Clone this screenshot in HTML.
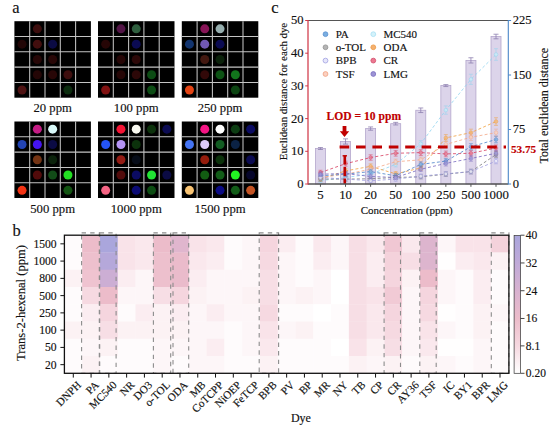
<!DOCTYPE html>
<html><head><meta charset="utf-8"><style>
html,body{margin:0;padding:0;background:#fff;width:550px;height:429px;overflow:hidden;}
svg{display:block;}
text{font-family:"Liberation Serif", serif;}
</style></head><body>
<svg width="550" height="429" viewBox="0 0 550 429">
<rect x="0" y="0" width="550" height="429" fill="#ffffff"/>
<text x="12.3" y="13" font-family='"Liberation Serif", serif' font-size="16.5" fill="#111" stroke="#111" stroke-width="0.15">a</text>
<rect x="14.4" y="21.2" width="76.5" height="76.5" fill="#000"/>
<circle cx="37.35" cy="28.85" r="4.5" fill="#3c0d0d"/>
<circle cx="22.05" cy="44.15" r="4.5" fill="#220606"/>
<circle cx="37.35" cy="44.15" r="4.5" fill="#420e0e"/>
<circle cx="52.65" cy="44.15" r="4.5" fill="#0b0b44"/>
<circle cx="37.35" cy="59.45" r="4.5" fill="#260606"/>
<circle cx="52.65" cy="59.45" r="4.5" fill="#280707"/>
<circle cx="37.35" cy="74.75" r="4.5" fill="#240606"/>
<circle cx="52.65" cy="74.75" r="4.5" fill="#280707"/>
<circle cx="67.95" cy="74.75" r="4.5" fill="#3e0e0e"/>
<circle cx="22.05" cy="90.05" r="4.5" fill="#4e1212"/>
<circle cx="67.95" cy="90.05" r="4.5" fill="#0b2c0e"/>
<line x1="29.70" y1="21.2" x2="29.70" y2="97.7" stroke="#c4c4c4" stroke-width="1.05"/>
<line x1="14.4" y1="36.50" x2="90.9" y2="36.50" stroke="#c4c4c4" stroke-width="1.05"/>
<line x1="45.00" y1="21.2" x2="45.00" y2="97.7" stroke="#c4c4c4" stroke-width="1.05"/>
<line x1="14.4" y1="51.80" x2="90.9" y2="51.80" stroke="#c4c4c4" stroke-width="1.05"/>
<line x1="60.30" y1="21.2" x2="60.30" y2="97.7" stroke="#c4c4c4" stroke-width="1.05"/>
<line x1="14.4" y1="67.10" x2="90.9" y2="67.10" stroke="#c4c4c4" stroke-width="1.05"/>
<line x1="75.60" y1="21.2" x2="75.60" y2="97.7" stroke="#c4c4c4" stroke-width="1.05"/>
<line x1="14.4" y1="82.40" x2="90.9" y2="82.40" stroke="#c4c4c4" stroke-width="1.05"/>
<text x="52.65" y="111.8" text-anchor="middle" font-family='"Liberation Serif", serif' font-size="12.7" fill="#111" stroke="#111" stroke-width="0.15">20 ppm</text>
<rect x="98.0" y="21.2" width="76.5" height="76.5" fill="#000"/>
<circle cx="120.95" cy="28.85" r="4.5" fill="#521446"/>
<circle cx="136.25" cy="28.85" r="4.5" fill="#2e5e3e"/>
<circle cx="105.65" cy="44.15" r="4.5" fill="#260606"/>
<circle cx="136.25" cy="44.15" r="4.5" fill="#0b0b52"/>
<circle cx="120.95" cy="59.45" r="4.5" fill="#260606"/>
<circle cx="136.25" cy="59.45" r="4.5" fill="#2c0808"/>
<circle cx="120.95" cy="74.75" r="4.5" fill="#260606"/>
<circle cx="136.25" cy="74.75" r="4.5" fill="#2c0808"/>
<circle cx="151.55" cy="74.75" r="4.5" fill="#0c4c14"/>
<circle cx="105.65" cy="90.05" r="4.5" fill="#801212"/>
<circle cx="151.55" cy="90.05" r="4.5" fill="#0c4c14"/>
<line x1="113.30" y1="21.2" x2="113.30" y2="97.7" stroke="#c4c4c4" stroke-width="1.05"/>
<line x1="98.0" y1="36.50" x2="174.5" y2="36.50" stroke="#c4c4c4" stroke-width="1.05"/>
<line x1="128.60" y1="21.2" x2="128.60" y2="97.7" stroke="#c4c4c4" stroke-width="1.05"/>
<line x1="98.0" y1="51.80" x2="174.5" y2="51.80" stroke="#c4c4c4" stroke-width="1.05"/>
<line x1="143.90" y1="21.2" x2="143.90" y2="97.7" stroke="#c4c4c4" stroke-width="1.05"/>
<line x1="98.0" y1="67.10" x2="174.5" y2="67.10" stroke="#c4c4c4" stroke-width="1.05"/>
<line x1="159.20" y1="21.2" x2="159.20" y2="97.7" stroke="#c4c4c4" stroke-width="1.05"/>
<line x1="98.0" y1="82.40" x2="174.5" y2="82.40" stroke="#c4c4c4" stroke-width="1.05"/>
<text x="136.25" y="111.8" text-anchor="middle" font-family='"Liberation Serif", serif' font-size="12.7" fill="#111" stroke="#111" stroke-width="0.15">100 ppm</text>
<rect x="181.8" y="21.2" width="76.5" height="76.5" fill="#000"/>
<circle cx="204.75" cy="28.85" r="4.5" fill="#861456"/>
<circle cx="220.05" cy="28.85" r="4.5" fill="#96aeae"/>
<circle cx="189.45" cy="44.15" r="4.5" fill="#12346e"/>
<circle cx="204.75" cy="44.15" r="4.5" fill="#7058b4"/>
<circle cx="220.05" cy="44.15" r="4.5" fill="#0b0b52"/>
<circle cx="204.75" cy="59.45" r="4.5" fill="#421810"/>
<circle cx="220.05" cy="59.45" r="4.5" fill="#0b220b"/>
<circle cx="204.75" cy="74.75" r="4.5" fill="#320909"/>
<circle cx="220.05" cy="74.75" r="4.5" fill="#0c5214"/>
<circle cx="235.35" cy="74.75" r="4.5" fill="#12741c"/>
<circle cx="189.45" cy="90.05" r="4.5" fill="#e44414"/>
<circle cx="235.35" cy="90.05" r="4.5" fill="#0c4412"/>
<line x1="197.10" y1="21.2" x2="197.10" y2="97.7" stroke="#c4c4c4" stroke-width="1.05"/>
<line x1="181.8" y1="36.50" x2="258.3" y2="36.50" stroke="#c4c4c4" stroke-width="1.05"/>
<line x1="212.40" y1="21.2" x2="212.40" y2="97.7" stroke="#c4c4c4" stroke-width="1.05"/>
<line x1="181.8" y1="51.80" x2="258.3" y2="51.80" stroke="#c4c4c4" stroke-width="1.05"/>
<line x1="227.70" y1="21.2" x2="227.70" y2="97.7" stroke="#c4c4c4" stroke-width="1.05"/>
<line x1="181.8" y1="67.10" x2="258.3" y2="67.10" stroke="#c4c4c4" stroke-width="1.05"/>
<line x1="243.00" y1="21.2" x2="243.00" y2="97.7" stroke="#c4c4c4" stroke-width="1.05"/>
<line x1="181.8" y1="82.40" x2="258.3" y2="82.40" stroke="#c4c4c4" stroke-width="1.05"/>
<text x="220.05" y="111.8" text-anchor="middle" font-family='"Liberation Serif", serif' font-size="12.7" fill="#111" stroke="#111" stroke-width="0.15">250 ppm</text>
<rect x="14.4" y="121.5" width="76.5" height="76.5" fill="#000"/>
<circle cx="37.35" cy="129.15" r="4.5" fill="#c41c84"/>
<circle cx="52.65" cy="129.15" r="4.5" fill="#d8f8f8"/>
<circle cx="22.05" cy="144.45" r="4.5" fill="#2244b4"/>
<circle cx="37.35" cy="144.45" r="4.5" fill="#4414f0"/>
<circle cx="52.65" cy="144.45" r="4.5" fill="#0b0b44"/>
<circle cx="37.35" cy="159.75" r="4.5" fill="#743414"/>
<circle cx="52.65" cy="159.75" r="4.5" fill="#0b220b"/>
<circle cx="37.35" cy="175.05" r="4.5" fill="#520b0b"/>
<circle cx="52.65" cy="175.05" r="4.5" fill="#124c18"/>
<circle cx="67.95" cy="175.05" r="4.5" fill="#22e022"/>
<circle cx="22.05" cy="190.35" r="4.5" fill="#f43414"/>
<circle cx="67.95" cy="190.35" r="4.5" fill="#125412"/>
<line x1="29.70" y1="121.5" x2="29.70" y2="198.0" stroke="#c4c4c4" stroke-width="1.05"/>
<line x1="14.4" y1="136.80" x2="90.9" y2="136.80" stroke="#c4c4c4" stroke-width="1.05"/>
<line x1="45.00" y1="121.5" x2="45.00" y2="198.0" stroke="#c4c4c4" stroke-width="1.05"/>
<line x1="14.4" y1="152.10" x2="90.9" y2="152.10" stroke="#c4c4c4" stroke-width="1.05"/>
<line x1="60.30" y1="121.5" x2="60.30" y2="198.0" stroke="#c4c4c4" stroke-width="1.05"/>
<line x1="14.4" y1="167.40" x2="90.9" y2="167.40" stroke="#c4c4c4" stroke-width="1.05"/>
<line x1="75.60" y1="121.5" x2="75.60" y2="198.0" stroke="#c4c4c4" stroke-width="1.05"/>
<line x1="14.4" y1="182.70" x2="90.9" y2="182.70" stroke="#c4c4c4" stroke-width="1.05"/>
<text x="52.65" y="212.6" text-anchor="middle" font-family='"Liberation Serif", serif' font-size="12.7" fill="#111" stroke="#111" stroke-width="0.15">500 ppm</text>
<rect x="98.0" y="121.5" width="76.5" height="76.5" fill="#000"/>
<circle cx="120.95" cy="129.15" r="4.5" fill="#f41434"/>
<circle cx="136.25" cy="129.15" r="4.5" fill="#f8f8f0"/>
<circle cx="151.55" cy="129.15" r="4.5" fill="#0c320c"/>
<circle cx="166.85" cy="129.15" r="4.5" fill="#0b0b52"/>
<circle cx="105.65" cy="144.45" r="4.5" fill="#2454f4"/>
<circle cx="120.95" cy="144.45" r="4.5" fill="#b494f4"/>
<circle cx="136.25" cy="144.45" r="4.5" fill="#0c320c"/>
<circle cx="120.95" cy="159.75" r="4.5" fill="#941c14"/>
<circle cx="136.25" cy="159.75" r="4.5" fill="#060c18"/>
<circle cx="120.95" cy="175.05" r="4.5" fill="#520b0b"/>
<circle cx="136.25" cy="175.05" r="4.5" fill="#0b0b62"/>
<circle cx="151.55" cy="175.05" r="4.5" fill="#22e434"/>
<circle cx="166.85" cy="175.05" r="4.5" fill="#0b0b44"/>
<circle cx="105.65" cy="190.35" r="4.5" fill="#f46484"/>
<circle cx="136.25" cy="190.35" r="4.5" fill="#0b0b74"/>
<circle cx="151.55" cy="190.35" r="4.5" fill="#0c4c12"/>
<line x1="113.30" y1="121.5" x2="113.30" y2="198.0" stroke="#c4c4c4" stroke-width="1.05"/>
<line x1="98.0" y1="136.80" x2="174.5" y2="136.80" stroke="#c4c4c4" stroke-width="1.05"/>
<line x1="128.60" y1="121.5" x2="128.60" y2="198.0" stroke="#c4c4c4" stroke-width="1.05"/>
<line x1="98.0" y1="152.10" x2="174.5" y2="152.10" stroke="#c4c4c4" stroke-width="1.05"/>
<line x1="143.90" y1="121.5" x2="143.90" y2="198.0" stroke="#c4c4c4" stroke-width="1.05"/>
<line x1="98.0" y1="167.40" x2="174.5" y2="167.40" stroke="#c4c4c4" stroke-width="1.05"/>
<line x1="159.20" y1="121.5" x2="159.20" y2="198.0" stroke="#c4c4c4" stroke-width="1.05"/>
<line x1="98.0" y1="182.70" x2="174.5" y2="182.70" stroke="#c4c4c4" stroke-width="1.05"/>
<text x="136.25" y="212.6" text-anchor="middle" font-family='"Liberation Serif", serif' font-size="12.7" fill="#111" stroke="#111" stroke-width="0.15">1000 ppm</text>
<rect x="181.8" y="121.5" width="76.5" height="76.5" fill="#000"/>
<circle cx="204.75" cy="129.15" r="4.5" fill="#f41484"/>
<circle cx="220.05" cy="129.15" r="4.5" fill="#ffffff"/>
<circle cx="235.35" cy="129.15" r="4.5" fill="#0c3c12"/>
<circle cx="250.65" cy="129.15" r="4.5" fill="#0b0b62"/>
<circle cx="189.45" cy="144.45" r="4.5" fill="#4474f4"/>
<circle cx="204.75" cy="144.45" r="4.5" fill="#dccaf8"/>
<circle cx="220.05" cy="144.45" r="4.5" fill="#125c22"/>
<circle cx="235.35" cy="144.45" r="4.5" fill="#0b2244"/>
<circle cx="204.75" cy="159.75" r="4.5" fill="#941c0c"/>
<circle cx="220.05" cy="159.75" r="4.5" fill="#0b320b"/>
<circle cx="250.65" cy="159.75" r="4.5" fill="#0b0b52"/>
<circle cx="204.75" cy="175.05" r="4.5" fill="#125c12"/>
<circle cx="220.05" cy="175.05" r="4.5" fill="#125c18"/>
<circle cx="235.35" cy="175.05" r="4.5" fill="#22f422"/>
<circle cx="250.65" cy="175.05" r="4.5" fill="#06062c"/>
<circle cx="189.45" cy="190.35" r="4.5" fill="#f8c474"/>
<circle cx="220.05" cy="190.35" r="4.5" fill="#0b0b84"/>
<circle cx="235.35" cy="190.35" r="4.5" fill="#125c18"/>
<circle cx="250.65" cy="190.35" r="4.5" fill="#c45424"/>
<line x1="197.10" y1="121.5" x2="197.10" y2="198.0" stroke="#c4c4c4" stroke-width="1.05"/>
<line x1="181.8" y1="136.80" x2="258.3" y2="136.80" stroke="#c4c4c4" stroke-width="1.05"/>
<line x1="212.40" y1="121.5" x2="212.40" y2="198.0" stroke="#c4c4c4" stroke-width="1.05"/>
<line x1="181.8" y1="152.10" x2="258.3" y2="152.10" stroke="#c4c4c4" stroke-width="1.05"/>
<line x1="227.70" y1="121.5" x2="227.70" y2="198.0" stroke="#c4c4c4" stroke-width="1.05"/>
<line x1="181.8" y1="167.40" x2="258.3" y2="167.40" stroke="#c4c4c4" stroke-width="1.05"/>
<line x1="243.00" y1="121.5" x2="243.00" y2="198.0" stroke="#c4c4c4" stroke-width="1.05"/>
<line x1="181.8" y1="182.70" x2="258.3" y2="182.70" stroke="#c4c4c4" stroke-width="1.05"/>
<text x="220.05" y="212.6" text-anchor="middle" font-family='"Liberation Serif", serif' font-size="12.7" fill="#111" stroke="#111" stroke-width="0.15">1500 ppm</text>
<text x="271.2" y="12.6" font-family='"Liberation Serif", serif' font-size="16.5" fill="#111" stroke="#111" stroke-width="0.15">c</text>
<rect x="315.45" y="148.52" width="10.0" height="35.48" fill="#dcd4ea" stroke="#b4a6cc" stroke-width="0.8"/>
<line x1="320.45" y1="147.54" x2="320.45" y2="149.50" stroke="#8e80b0" stroke-width="0.8"/>
<line x1="317.95" y1="147.54" x2="322.95" y2="147.54" stroke="#8e80b0" stroke-width="0.8"/>
<line x1="317.95" y1="149.50" x2="322.95" y2="149.50" stroke="#8e80b0" stroke-width="0.8"/>
<rect x="340.53" y="141.49" width="10.0" height="42.51" fill="#dcd4ea" stroke="#b4a6cc" stroke-width="0.8"/>
<line x1="345.53" y1="138.87" x2="345.53" y2="144.11" stroke="#8e80b0" stroke-width="0.8"/>
<line x1="343.03" y1="138.87" x2="348.03" y2="138.87" stroke="#8e80b0" stroke-width="0.8"/>
<line x1="343.03" y1="144.11" x2="348.03" y2="144.11" stroke="#8e80b0" stroke-width="0.8"/>
<rect x="365.61" y="128.57" width="10.0" height="55.43" fill="#dcd4ea" stroke="#b4a6cc" stroke-width="0.8"/>
<line x1="370.61" y1="126.94" x2="370.61" y2="130.21" stroke="#8e80b0" stroke-width="0.8"/>
<line x1="368.11" y1="126.94" x2="373.11" y2="126.94" stroke="#8e80b0" stroke-width="0.8"/>
<line x1="368.11" y1="130.21" x2="373.11" y2="130.21" stroke="#8e80b0" stroke-width="0.8"/>
<rect x="390.69" y="123.67" width="10.0" height="60.33" fill="#dcd4ea" stroke="#b4a6cc" stroke-width="0.8"/>
<line x1="395.69" y1="122.36" x2="395.69" y2="124.98" stroke="#8e80b0" stroke-width="0.8"/>
<line x1="393.19" y1="122.36" x2="398.19" y2="122.36" stroke="#8e80b0" stroke-width="0.8"/>
<line x1="393.19" y1="124.98" x2="398.19" y2="124.98" stroke="#8e80b0" stroke-width="0.8"/>
<rect x="415.77" y="110.26" width="10.0" height="73.74" fill="#dcd4ea" stroke="#b4a6cc" stroke-width="0.8"/>
<line x1="420.77" y1="107.97" x2="420.77" y2="112.55" stroke="#8e80b0" stroke-width="0.8"/>
<line x1="418.27" y1="107.97" x2="423.27" y2="107.97" stroke="#8e80b0" stroke-width="0.8"/>
<line x1="418.27" y1="112.55" x2="423.27" y2="112.55" stroke="#8e80b0" stroke-width="0.8"/>
<rect x="440.85" y="85.57" width="10.0" height="98.43" fill="#dcd4ea" stroke="#b4a6cc" stroke-width="0.8"/>
<line x1="445.85" y1="84.59" x2="445.85" y2="86.55" stroke="#8e80b0" stroke-width="0.8"/>
<line x1="443.35" y1="84.59" x2="448.35" y2="84.59" stroke="#8e80b0" stroke-width="0.8"/>
<line x1="443.35" y1="86.55" x2="448.35" y2="86.55" stroke="#8e80b0" stroke-width="0.8"/>
<rect x="465.93" y="60.39" width="10.0" height="123.61" fill="#dcd4ea" stroke="#b4a6cc" stroke-width="0.8"/>
<line x1="470.93" y1="57.78" x2="470.93" y2="63.01" stroke="#8e80b0" stroke-width="0.8"/>
<line x1="468.43" y1="57.78" x2="473.43" y2="57.78" stroke="#8e80b0" stroke-width="0.8"/>
<line x1="468.43" y1="63.01" x2="473.43" y2="63.01" stroke="#8e80b0" stroke-width="0.8"/>
<rect x="491.01" y="36.52" width="10.0" height="147.48" fill="#dcd4ea" stroke="#b4a6cc" stroke-width="0.8"/>
<line x1="496.01" y1="34.23" x2="496.01" y2="38.81" stroke="#8e80b0" stroke-width="0.8"/>
<line x1="493.51" y1="34.23" x2="498.51" y2="34.23" stroke="#8e80b0" stroke-width="0.8"/>
<line x1="493.51" y1="38.81" x2="498.51" y2="38.81" stroke="#8e80b0" stroke-width="0.8"/>
<polyline points="320.45,180.73 345.53,177.46 370.61,174.19 395.69,164.38 420.77,143.78 445.85,110.10 470.93,79.36 496.01,54.51" fill="none" stroke="#8fd4f0" stroke-width="0.9" stroke-dasharray="3 2.2" opacity="0.9"/>
<polyline points="320.45,179.09 345.53,170.92 370.61,166.34 395.69,173.86 420.77,167.98 445.85,137.89 470.93,132.66 496.01,121.54" fill="none" stroke="#f0a040" stroke-width="0.9" stroke-dasharray="3 2.2" opacity="0.9"/>
<polyline points="320.45,177.46 345.53,174.19 370.61,169.28 395.69,161.76 420.77,159.80 445.85,144.43 470.93,137.24 496.01,132.66" fill="none" stroke="#f4a888" stroke-width="0.9" stroke-dasharray="3 2.2" opacity="0.9"/>
<polyline points="320.45,172.56 345.53,163.73 370.61,157.51 395.69,153.26 420.77,152.61 445.85,153.92 470.93,153.26 496.01,148.03" fill="none" stroke="#d84060" stroke-width="0.9" stroke-dasharray="3 2.2" opacity="0.9"/>
<polyline points="320.45,175.82 345.53,174.19 370.61,171.57 395.69,175.82 420.77,164.38 445.85,161.11 470.93,146.72 496.01,139.53" fill="none" stroke="#4a82c8" stroke-width="0.9" stroke-dasharray="3 2.2" opacity="0.9"/>
<polyline points="320.45,179.09 345.53,179.09 370.61,178.77 395.69,177.46 420.77,176.81 445.85,174.19 470.93,171.57 496.01,154.57" fill="none" stroke="#7a7a7a" stroke-width="0.9" stroke-dasharray="3 2.2" opacity="0.9"/>
<polyline points="320.45,177.46 345.53,179.09 370.61,180.73 395.69,179.09 420.77,176.15 445.85,173.86 470.93,171.57 496.01,161.11" fill="none" stroke="#9c9ce0" stroke-width="0.9" stroke-dasharray="3 2.2" opacity="0.9"/>
<polyline points="320.45,174.19 345.53,173.54 370.61,176.48 395.69,177.46 420.77,169.28 445.85,163.40 470.93,158.49 496.01,153.26" fill="none" stroke="#7a6cc0" stroke-width="0.9" stroke-dasharray="3 2.2" opacity="0.9"/>
<g opacity="0.8"><line x1="320.45" y1="178.67" x2="320.45" y2="182.79" stroke="#8fd4f0" stroke-width="0.6"/>
<line x1="318.45" y1="178.67" x2="322.45" y2="178.67" stroke="#8fd4f0" stroke-width="0.6"/>
<line x1="318.45" y1="182.79" x2="322.45" y2="182.79" stroke="#8fd4f0" stroke-width="0.6"/>
<circle cx="320.45" cy="180.73" r="1.8" fill="#c9eef9" stroke="#8fd4f0" stroke-width="0.6"/></g>
<g opacity="0.8"><line x1="345.53" y1="175.30" x2="345.53" y2="179.62" stroke="#8fd4f0" stroke-width="0.6"/>
<line x1="343.53" y1="175.30" x2="347.53" y2="175.30" stroke="#8fd4f0" stroke-width="0.6"/>
<line x1="343.53" y1="179.62" x2="347.53" y2="179.62" stroke="#8fd4f0" stroke-width="0.6"/>
<circle cx="345.53" cy="177.46" r="1.8" fill="#c9eef9" stroke="#8fd4f0" stroke-width="0.6"/></g>
<g opacity="0.8"><line x1="370.61" y1="171.93" x2="370.61" y2="176.45" stroke="#8fd4f0" stroke-width="0.6"/>
<line x1="368.61" y1="171.93" x2="372.61" y2="171.93" stroke="#8fd4f0" stroke-width="0.6"/>
<line x1="368.61" y1="176.45" x2="372.61" y2="176.45" stroke="#8fd4f0" stroke-width="0.6"/>
<circle cx="370.61" cy="174.19" r="1.8" fill="#c9eef9" stroke="#8fd4f0" stroke-width="0.6"/></g>
<g opacity="0.8"><line x1="395.69" y1="161.83" x2="395.69" y2="166.93" stroke="#8fd4f0" stroke-width="0.6"/>
<line x1="393.69" y1="161.83" x2="397.69" y2="161.83" stroke="#8fd4f0" stroke-width="0.6"/>
<line x1="393.69" y1="166.93" x2="397.69" y2="166.93" stroke="#8fd4f0" stroke-width="0.6"/>
<circle cx="395.69" cy="164.38" r="1.8" fill="#c9eef9" stroke="#8fd4f0" stroke-width="0.6"/></g>
<g opacity="0.8"><line x1="420.77" y1="140.61" x2="420.77" y2="146.95" stroke="#8fd4f0" stroke-width="0.6"/>
<line x1="418.77" y1="140.61" x2="422.77" y2="140.61" stroke="#8fd4f0" stroke-width="0.6"/>
<line x1="418.77" y1="146.95" x2="422.77" y2="146.95" stroke="#8fd4f0" stroke-width="0.6"/>
<circle cx="420.77" cy="143.78" r="1.8" fill="#c9eef9" stroke="#8fd4f0" stroke-width="0.6"/></g>
<g opacity="0.8"><line x1="445.85" y1="105.92" x2="445.85" y2="114.28" stroke="#8fd4f0" stroke-width="0.6"/>
<line x1="443.85" y1="105.92" x2="447.85" y2="105.92" stroke="#8fd4f0" stroke-width="0.6"/>
<line x1="443.85" y1="114.28" x2="447.85" y2="114.28" stroke="#8fd4f0" stroke-width="0.6"/>
<circle cx="445.85" cy="110.10" r="1.8" fill="#c9eef9" stroke="#8fd4f0" stroke-width="0.6"/></g>
<g opacity="0.8"><line x1="470.93" y1="74.26" x2="470.93" y2="84.46" stroke="#8fd4f0" stroke-width="0.6"/>
<line x1="468.93" y1="74.26" x2="472.93" y2="74.26" stroke="#8fd4f0" stroke-width="0.6"/>
<line x1="468.93" y1="84.46" x2="472.93" y2="84.46" stroke="#8fd4f0" stroke-width="0.6"/>
<circle cx="470.93" cy="79.36" r="1.8" fill="#c9eef9" stroke="#8fd4f0" stroke-width="0.6"/></g>
<g opacity="0.8"><line x1="496.01" y1="48.66" x2="496.01" y2="60.35" stroke="#8fd4f0" stroke-width="0.6"/>
<line x1="494.01" y1="48.66" x2="498.01" y2="48.66" stroke="#8fd4f0" stroke-width="0.6"/>
<line x1="494.01" y1="60.35" x2="498.01" y2="60.35" stroke="#8fd4f0" stroke-width="0.6"/>
<circle cx="496.01" cy="54.51" r="1.8" fill="#c9eef9" stroke="#8fd4f0" stroke-width="0.6"/></g>
<g opacity="0.8"><line x1="320.45" y1="176.99" x2="320.45" y2="181.20" stroke="#f0a040" stroke-width="0.6"/>
<line x1="318.45" y1="176.99" x2="322.45" y2="176.99" stroke="#f0a040" stroke-width="0.6"/>
<line x1="318.45" y1="181.20" x2="322.45" y2="181.20" stroke="#f0a040" stroke-width="0.6"/>
<circle cx="320.45" cy="179.09" r="1.8" fill="#f5b870" stroke="#f0a040" stroke-width="0.6"/></g>
<g opacity="0.8"><line x1="345.53" y1="168.57" x2="345.53" y2="173.27" stroke="#f0a040" stroke-width="0.6"/>
<line x1="343.53" y1="168.57" x2="347.53" y2="168.57" stroke="#f0a040" stroke-width="0.6"/>
<line x1="343.53" y1="173.27" x2="347.53" y2="173.27" stroke="#f0a040" stroke-width="0.6"/>
<circle cx="345.53" cy="170.92" r="1.8" fill="#f5b870" stroke="#f0a040" stroke-width="0.6"/></g>
<g opacity="0.8"><line x1="370.61" y1="163.85" x2="370.61" y2="168.83" stroke="#f0a040" stroke-width="0.6"/>
<line x1="368.61" y1="163.85" x2="372.61" y2="163.85" stroke="#f0a040" stroke-width="0.6"/>
<line x1="368.61" y1="168.83" x2="372.61" y2="168.83" stroke="#f0a040" stroke-width="0.6"/>
<circle cx="370.61" cy="166.34" r="1.8" fill="#f5b870" stroke="#f0a040" stroke-width="0.6"/></g>
<g opacity="0.8"><line x1="395.69" y1="171.60" x2="395.69" y2="176.13" stroke="#f0a040" stroke-width="0.6"/>
<line x1="393.69" y1="171.60" x2="397.69" y2="171.60" stroke="#f0a040" stroke-width="0.6"/>
<line x1="393.69" y1="176.13" x2="397.69" y2="176.13" stroke="#f0a040" stroke-width="0.6"/>
<circle cx="395.69" cy="173.86" r="1.8" fill="#f5b870" stroke="#f0a040" stroke-width="0.6"/></g>
<g opacity="0.8"><line x1="420.77" y1="165.53" x2="420.77" y2="170.42" stroke="#f0a040" stroke-width="0.6"/>
<line x1="418.77" y1="165.53" x2="422.77" y2="165.53" stroke="#f0a040" stroke-width="0.6"/>
<line x1="418.77" y1="170.42" x2="422.77" y2="170.42" stroke="#f0a040" stroke-width="0.6"/>
<circle cx="420.77" cy="167.98" r="1.8" fill="#f5b870" stroke="#f0a040" stroke-width="0.6"/></g>
<g opacity="0.8"><line x1="445.85" y1="134.55" x2="445.85" y2="141.24" stroke="#f0a040" stroke-width="0.6"/>
<line x1="443.85" y1="134.55" x2="447.85" y2="134.55" stroke="#f0a040" stroke-width="0.6"/>
<line x1="443.85" y1="141.24" x2="447.85" y2="141.24" stroke="#f0a040" stroke-width="0.6"/>
<circle cx="445.85" cy="137.89" r="1.8" fill="#f5b870" stroke="#f0a040" stroke-width="0.6"/></g>
<g opacity="0.8"><line x1="470.93" y1="129.16" x2="470.93" y2="136.16" stroke="#f0a040" stroke-width="0.6"/>
<line x1="468.93" y1="129.16" x2="472.93" y2="129.16" stroke="#f0a040" stroke-width="0.6"/>
<line x1="468.93" y1="136.16" x2="472.93" y2="136.16" stroke="#f0a040" stroke-width="0.6"/>
<circle cx="470.93" cy="132.66" r="1.8" fill="#f5b870" stroke="#f0a040" stroke-width="0.6"/></g>
<g opacity="0.8"><line x1="496.01" y1="117.71" x2="496.01" y2="125.38" stroke="#f0a040" stroke-width="0.6"/>
<line x1="494.01" y1="117.71" x2="498.01" y2="117.71" stroke="#f0a040" stroke-width="0.6"/>
<line x1="494.01" y1="125.38" x2="498.01" y2="125.38" stroke="#f0a040" stroke-width="0.6"/>
<circle cx="496.01" cy="121.54" r="1.8" fill="#f5b870" stroke="#f0a040" stroke-width="0.6"/></g>
<g opacity="0.8"><line x1="320.45" y1="175.30" x2="320.45" y2="179.62" stroke="#f4a888" stroke-width="0.6"/>
<line x1="318.45" y1="175.30" x2="322.45" y2="175.30" stroke="#f4a888" stroke-width="0.6"/>
<line x1="318.45" y1="179.62" x2="322.45" y2="179.62" stroke="#f4a888" stroke-width="0.6"/>
<circle cx="320.45" cy="177.46" r="1.8" fill="#fbd4c2" stroke="#f4a888" stroke-width="0.6"/></g>
<g opacity="0.8"><line x1="345.53" y1="171.93" x2="345.53" y2="176.45" stroke="#f4a888" stroke-width="0.6"/>
<line x1="343.53" y1="171.93" x2="347.53" y2="171.93" stroke="#f4a888" stroke-width="0.6"/>
<line x1="343.53" y1="176.45" x2="347.53" y2="176.45" stroke="#f4a888" stroke-width="0.6"/>
<circle cx="345.53" cy="174.19" r="1.8" fill="#fbd4c2" stroke="#f4a888" stroke-width="0.6"/></g>
<g opacity="0.8"><line x1="370.61" y1="166.88" x2="370.61" y2="171.69" stroke="#f4a888" stroke-width="0.6"/>
<line x1="368.61" y1="166.88" x2="372.61" y2="166.88" stroke="#f4a888" stroke-width="0.6"/>
<line x1="368.61" y1="171.69" x2="372.61" y2="171.69" stroke="#f4a888" stroke-width="0.6"/>
<circle cx="370.61" cy="169.28" r="1.8" fill="#fbd4c2" stroke="#f4a888" stroke-width="0.6"/></g>
<g opacity="0.8"><line x1="395.69" y1="159.13" x2="395.69" y2="164.39" stroke="#f4a888" stroke-width="0.6"/>
<line x1="393.69" y1="159.13" x2="397.69" y2="159.13" stroke="#f4a888" stroke-width="0.6"/>
<line x1="393.69" y1="164.39" x2="397.69" y2="164.39" stroke="#f4a888" stroke-width="0.6"/>
<circle cx="395.69" cy="161.76" r="1.8" fill="#fbd4c2" stroke="#f4a888" stroke-width="0.6"/></g>
<g opacity="0.8"><line x1="420.77" y1="157.11" x2="420.77" y2="162.49" stroke="#f4a888" stroke-width="0.6"/>
<line x1="418.77" y1="157.11" x2="422.77" y2="157.11" stroke="#f4a888" stroke-width="0.6"/>
<line x1="418.77" y1="162.49" x2="422.77" y2="162.49" stroke="#f4a888" stroke-width="0.6"/>
<circle cx="420.77" cy="159.80" r="1.8" fill="#fbd4c2" stroke="#f4a888" stroke-width="0.6"/></g>
<g opacity="0.8"><line x1="445.85" y1="141.28" x2="445.85" y2="147.58" stroke="#f4a888" stroke-width="0.6"/>
<line x1="443.85" y1="141.28" x2="447.85" y2="141.28" stroke="#f4a888" stroke-width="0.6"/>
<line x1="443.85" y1="147.58" x2="447.85" y2="147.58" stroke="#f4a888" stroke-width="0.6"/>
<circle cx="445.85" cy="144.43" r="1.8" fill="#fbd4c2" stroke="#f4a888" stroke-width="0.6"/></g>
<g opacity="0.8"><line x1="470.93" y1="133.87" x2="470.93" y2="140.60" stroke="#f4a888" stroke-width="0.6"/>
<line x1="468.93" y1="133.87" x2="472.93" y2="133.87" stroke="#f4a888" stroke-width="0.6"/>
<line x1="468.93" y1="140.60" x2="472.93" y2="140.60" stroke="#f4a888" stroke-width="0.6"/>
<circle cx="470.93" cy="137.24" r="1.8" fill="#fbd4c2" stroke="#f4a888" stroke-width="0.6"/></g>
<g opacity="0.8"><line x1="496.01" y1="129.16" x2="496.01" y2="136.16" stroke="#f4a888" stroke-width="0.6"/>
<line x1="494.01" y1="129.16" x2="498.01" y2="129.16" stroke="#f4a888" stroke-width="0.6"/>
<line x1="494.01" y1="136.16" x2="498.01" y2="136.16" stroke="#f4a888" stroke-width="0.6"/>
<circle cx="496.01" cy="132.66" r="1.8" fill="#fbd4c2" stroke="#f4a888" stroke-width="0.6"/></g>
<g opacity="0.8"><line x1="320.45" y1="170.25" x2="320.45" y2="174.86" stroke="#d84060" stroke-width="0.6"/>
<line x1="318.45" y1="170.25" x2="322.45" y2="170.25" stroke="#d84060" stroke-width="0.6"/>
<line x1="318.45" y1="174.86" x2="322.45" y2="174.86" stroke="#d84060" stroke-width="0.6"/>
<circle cx="320.45" cy="172.56" r="1.8" fill="#e87890" stroke="#d84060" stroke-width="0.6"/></g>
<g opacity="0.8"><line x1="345.53" y1="161.16" x2="345.53" y2="166.30" stroke="#d84060" stroke-width="0.6"/>
<line x1="343.53" y1="161.16" x2="347.53" y2="161.16" stroke="#d84060" stroke-width="0.6"/>
<line x1="343.53" y1="166.30" x2="347.53" y2="166.30" stroke="#d84060" stroke-width="0.6"/>
<circle cx="345.53" cy="163.73" r="1.8" fill="#e87890" stroke="#d84060" stroke-width="0.6"/></g>
<g opacity="0.8"><line x1="370.61" y1="154.76" x2="370.61" y2="160.27" stroke="#d84060" stroke-width="0.6"/>
<line x1="368.61" y1="154.76" x2="372.61" y2="154.76" stroke="#d84060" stroke-width="0.6"/>
<line x1="368.61" y1="160.27" x2="372.61" y2="160.27" stroke="#d84060" stroke-width="0.6"/>
<circle cx="370.61" cy="157.51" r="1.8" fill="#e87890" stroke="#d84060" stroke-width="0.6"/></g>
<g opacity="0.8"><line x1="395.69" y1="150.38" x2="395.69" y2="156.15" stroke="#d84060" stroke-width="0.6"/>
<line x1="393.69" y1="150.38" x2="397.69" y2="150.38" stroke="#d84060" stroke-width="0.6"/>
<line x1="393.69" y1="156.15" x2="397.69" y2="156.15" stroke="#d84060" stroke-width="0.6"/>
<circle cx="395.69" cy="153.26" r="1.8" fill="#e87890" stroke="#d84060" stroke-width="0.6"/></g>
<g opacity="0.8"><line x1="420.77" y1="149.70" x2="420.77" y2="155.51" stroke="#d84060" stroke-width="0.6"/>
<line x1="418.77" y1="149.70" x2="422.77" y2="149.70" stroke="#d84060" stroke-width="0.6"/>
<line x1="418.77" y1="155.51" x2="422.77" y2="155.51" stroke="#d84060" stroke-width="0.6"/>
<circle cx="420.77" cy="152.61" r="1.8" fill="#e87890" stroke="#d84060" stroke-width="0.6"/></g>
<g opacity="0.8"><line x1="445.85" y1="151.05" x2="445.85" y2="156.78" stroke="#d84060" stroke-width="0.6"/>
<line x1="443.85" y1="151.05" x2="447.85" y2="151.05" stroke="#d84060" stroke-width="0.6"/>
<line x1="443.85" y1="156.78" x2="447.85" y2="156.78" stroke="#d84060" stroke-width="0.6"/>
<circle cx="445.85" cy="153.92" r="1.8" fill="#e87890" stroke="#d84060" stroke-width="0.6"/></g>
<g opacity="0.8"><line x1="470.93" y1="150.38" x2="470.93" y2="156.15" stroke="#d84060" stroke-width="0.6"/>
<line x1="468.93" y1="150.38" x2="472.93" y2="150.38" stroke="#d84060" stroke-width="0.6"/>
<line x1="468.93" y1="156.15" x2="472.93" y2="156.15" stroke="#d84060" stroke-width="0.6"/>
<circle cx="470.93" cy="153.26" r="1.8" fill="#e87890" stroke="#d84060" stroke-width="0.6"/></g>
<g opacity="0.8"><line x1="496.01" y1="144.99" x2="496.01" y2="151.07" stroke="#d84060" stroke-width="0.6"/>
<line x1="494.01" y1="144.99" x2="498.01" y2="144.99" stroke="#d84060" stroke-width="0.6"/>
<line x1="494.01" y1="151.07" x2="498.01" y2="151.07" stroke="#d84060" stroke-width="0.6"/>
<circle cx="496.01" cy="148.03" r="1.8" fill="#e87890" stroke="#d84060" stroke-width="0.6"/></g>
<g opacity="0.8"><line x1="320.45" y1="173.62" x2="320.45" y2="178.03" stroke="#4a82c8" stroke-width="0.6"/>
<line x1="318.45" y1="173.62" x2="322.45" y2="173.62" stroke="#4a82c8" stroke-width="0.6"/>
<line x1="318.45" y1="178.03" x2="322.45" y2="178.03" stroke="#4a82c8" stroke-width="0.6"/>
<circle cx="320.45" cy="175.82" r="1.8" fill="#7aaee0" stroke="#4a82c8" stroke-width="0.6"/></g>
<g opacity="0.8"><line x1="345.53" y1="171.93" x2="345.53" y2="176.45" stroke="#4a82c8" stroke-width="0.6"/>
<line x1="343.53" y1="171.93" x2="347.53" y2="171.93" stroke="#4a82c8" stroke-width="0.6"/>
<line x1="343.53" y1="176.45" x2="347.53" y2="176.45" stroke="#4a82c8" stroke-width="0.6"/>
<circle cx="345.53" cy="174.19" r="1.8" fill="#7aaee0" stroke="#4a82c8" stroke-width="0.6"/></g>
<g opacity="0.8"><line x1="370.61" y1="169.24" x2="370.61" y2="173.91" stroke="#4a82c8" stroke-width="0.6"/>
<line x1="368.61" y1="169.24" x2="372.61" y2="169.24" stroke="#4a82c8" stroke-width="0.6"/>
<line x1="368.61" y1="173.91" x2="372.61" y2="173.91" stroke="#4a82c8" stroke-width="0.6"/>
<circle cx="370.61" cy="171.57" r="1.8" fill="#7aaee0" stroke="#4a82c8" stroke-width="0.6"/></g>
<g opacity="0.8"><line x1="395.69" y1="173.62" x2="395.69" y2="178.03" stroke="#4a82c8" stroke-width="0.6"/>
<line x1="393.69" y1="173.62" x2="397.69" y2="173.62" stroke="#4a82c8" stroke-width="0.6"/>
<line x1="393.69" y1="178.03" x2="397.69" y2="178.03" stroke="#4a82c8" stroke-width="0.6"/>
<circle cx="395.69" cy="175.82" r="1.8" fill="#7aaee0" stroke="#4a82c8" stroke-width="0.6"/></g>
<g opacity="0.8"><line x1="420.77" y1="161.83" x2="420.77" y2="166.93" stroke="#4a82c8" stroke-width="0.6"/>
<line x1="418.77" y1="161.83" x2="422.77" y2="161.83" stroke="#4a82c8" stroke-width="0.6"/>
<line x1="418.77" y1="166.93" x2="422.77" y2="166.93" stroke="#4a82c8" stroke-width="0.6"/>
<circle cx="420.77" cy="164.38" r="1.8" fill="#7aaee0" stroke="#4a82c8" stroke-width="0.6"/></g>
<g opacity="0.8"><line x1="445.85" y1="158.46" x2="445.85" y2="163.76" stroke="#4a82c8" stroke-width="0.6"/>
<line x1="443.85" y1="158.46" x2="447.85" y2="158.46" stroke="#4a82c8" stroke-width="0.6"/>
<line x1="443.85" y1="163.76" x2="447.85" y2="163.76" stroke="#4a82c8" stroke-width="0.6"/>
<circle cx="445.85" cy="161.11" r="1.8" fill="#7aaee0" stroke="#4a82c8" stroke-width="0.6"/></g>
<g opacity="0.8"><line x1="470.93" y1="143.64" x2="470.93" y2="149.80" stroke="#4a82c8" stroke-width="0.6"/>
<line x1="468.93" y1="143.64" x2="472.93" y2="143.64" stroke="#4a82c8" stroke-width="0.6"/>
<line x1="468.93" y1="149.80" x2="472.93" y2="149.80" stroke="#4a82c8" stroke-width="0.6"/>
<circle cx="470.93" cy="146.72" r="1.8" fill="#7aaee0" stroke="#4a82c8" stroke-width="0.6"/></g>
<g opacity="0.8"><line x1="496.01" y1="136.23" x2="496.01" y2="142.82" stroke="#4a82c8" stroke-width="0.6"/>
<line x1="494.01" y1="136.23" x2="498.01" y2="136.23" stroke="#4a82c8" stroke-width="0.6"/>
<line x1="494.01" y1="142.82" x2="498.01" y2="142.82" stroke="#4a82c8" stroke-width="0.6"/>
<circle cx="496.01" cy="139.53" r="1.8" fill="#7aaee0" stroke="#4a82c8" stroke-width="0.6"/></g>
<g opacity="0.8"><line x1="320.45" y1="176.99" x2="320.45" y2="181.20" stroke="#7a7a7a" stroke-width="0.6"/>
<line x1="318.45" y1="176.99" x2="322.45" y2="176.99" stroke="#7a7a7a" stroke-width="0.6"/>
<line x1="318.45" y1="181.20" x2="322.45" y2="181.20" stroke="#7a7a7a" stroke-width="0.6"/>
<circle cx="320.45" cy="179.09" r="1.8" fill="#b0b0b0" stroke="#7a7a7a" stroke-width="0.6"/></g>
<g opacity="0.8"><line x1="345.53" y1="176.99" x2="345.53" y2="181.20" stroke="#7a7a7a" stroke-width="0.6"/>
<line x1="343.53" y1="176.99" x2="347.53" y2="176.99" stroke="#7a7a7a" stroke-width="0.6"/>
<line x1="343.53" y1="181.20" x2="347.53" y2="181.20" stroke="#7a7a7a" stroke-width="0.6"/>
<circle cx="345.53" cy="179.09" r="1.8" fill="#b0b0b0" stroke="#7a7a7a" stroke-width="0.6"/></g>
<g opacity="0.8"><line x1="370.61" y1="176.65" x2="370.61" y2="180.89" stroke="#7a7a7a" stroke-width="0.6"/>
<line x1="368.61" y1="176.65" x2="372.61" y2="176.65" stroke="#7a7a7a" stroke-width="0.6"/>
<line x1="368.61" y1="180.89" x2="372.61" y2="180.89" stroke="#7a7a7a" stroke-width="0.6"/>
<circle cx="370.61" cy="178.77" r="1.8" fill="#b0b0b0" stroke="#7a7a7a" stroke-width="0.6"/></g>
<g opacity="0.8"><line x1="395.69" y1="175.30" x2="395.69" y2="179.62" stroke="#7a7a7a" stroke-width="0.6"/>
<line x1="393.69" y1="175.30" x2="397.69" y2="175.30" stroke="#7a7a7a" stroke-width="0.6"/>
<line x1="393.69" y1="179.62" x2="397.69" y2="179.62" stroke="#7a7a7a" stroke-width="0.6"/>
<circle cx="395.69" cy="177.46" r="1.8" fill="#b0b0b0" stroke="#7a7a7a" stroke-width="0.6"/></g>
<g opacity="0.8"><line x1="420.77" y1="174.63" x2="420.77" y2="178.98" stroke="#7a7a7a" stroke-width="0.6"/>
<line x1="418.77" y1="174.63" x2="422.77" y2="174.63" stroke="#7a7a7a" stroke-width="0.6"/>
<line x1="418.77" y1="178.98" x2="422.77" y2="178.98" stroke="#7a7a7a" stroke-width="0.6"/>
<circle cx="420.77" cy="176.81" r="1.8" fill="#b0b0b0" stroke="#7a7a7a" stroke-width="0.6"/></g>
<g opacity="0.8"><line x1="445.85" y1="171.93" x2="445.85" y2="176.45" stroke="#7a7a7a" stroke-width="0.6"/>
<line x1="443.85" y1="171.93" x2="447.85" y2="171.93" stroke="#7a7a7a" stroke-width="0.6"/>
<line x1="443.85" y1="176.45" x2="447.85" y2="176.45" stroke="#7a7a7a" stroke-width="0.6"/>
<circle cx="445.85" cy="174.19" r="1.8" fill="#b0b0b0" stroke="#7a7a7a" stroke-width="0.6"/></g>
<g opacity="0.8"><line x1="470.93" y1="169.24" x2="470.93" y2="173.91" stroke="#7a7a7a" stroke-width="0.6"/>
<line x1="468.93" y1="169.24" x2="472.93" y2="169.24" stroke="#7a7a7a" stroke-width="0.6"/>
<line x1="468.93" y1="173.91" x2="472.93" y2="173.91" stroke="#7a7a7a" stroke-width="0.6"/>
<circle cx="470.93" cy="171.57" r="1.8" fill="#b0b0b0" stroke="#7a7a7a" stroke-width="0.6"/></g>
<g opacity="0.8"><line x1="496.01" y1="151.73" x2="496.01" y2="157.41" stroke="#7a7a7a" stroke-width="0.6"/>
<line x1="494.01" y1="151.73" x2="498.01" y2="151.73" stroke="#7a7a7a" stroke-width="0.6"/>
<line x1="494.01" y1="157.41" x2="498.01" y2="157.41" stroke="#7a7a7a" stroke-width="0.6"/>
<circle cx="496.01" cy="154.57" r="1.8" fill="#b0b0b0" stroke="#7a7a7a" stroke-width="0.6"/></g>
<g opacity="0.8"><line x1="320.45" y1="175.30" x2="320.45" y2="179.62" stroke="#9c9ce0" stroke-width="0.6"/>
<line x1="318.45" y1="175.30" x2="322.45" y2="175.30" stroke="#9c9ce0" stroke-width="0.6"/>
<line x1="318.45" y1="179.62" x2="322.45" y2="179.62" stroke="#9c9ce0" stroke-width="0.6"/>
<circle cx="320.45" cy="177.46" r="1.8" fill="#eeeefc" stroke="#9c9ce0" stroke-width="0.6"/></g>
<g opacity="0.8"><line x1="345.53" y1="176.99" x2="345.53" y2="181.20" stroke="#9c9ce0" stroke-width="0.6"/>
<line x1="343.53" y1="176.99" x2="347.53" y2="176.99" stroke="#9c9ce0" stroke-width="0.6"/>
<line x1="343.53" y1="181.20" x2="347.53" y2="181.20" stroke="#9c9ce0" stroke-width="0.6"/>
<circle cx="345.53" cy="179.09" r="1.8" fill="#eeeefc" stroke="#9c9ce0" stroke-width="0.6"/></g>
<g opacity="0.8"><line x1="370.61" y1="178.67" x2="370.61" y2="182.79" stroke="#9c9ce0" stroke-width="0.6"/>
<line x1="368.61" y1="178.67" x2="372.61" y2="178.67" stroke="#9c9ce0" stroke-width="0.6"/>
<line x1="368.61" y1="182.79" x2="372.61" y2="182.79" stroke="#9c9ce0" stroke-width="0.6"/>
<circle cx="370.61" cy="180.73" r="1.8" fill="#eeeefc" stroke="#9c9ce0" stroke-width="0.6"/></g>
<g opacity="0.8"><line x1="395.69" y1="176.99" x2="395.69" y2="181.20" stroke="#9c9ce0" stroke-width="0.6"/>
<line x1="393.69" y1="176.99" x2="397.69" y2="176.99" stroke="#9c9ce0" stroke-width="0.6"/>
<line x1="393.69" y1="181.20" x2="397.69" y2="181.20" stroke="#9c9ce0" stroke-width="0.6"/>
<circle cx="395.69" cy="179.09" r="1.8" fill="#eeeefc" stroke="#9c9ce0" stroke-width="0.6"/></g>
<g opacity="0.8"><line x1="420.77" y1="173.95" x2="420.77" y2="178.35" stroke="#9c9ce0" stroke-width="0.6"/>
<line x1="418.77" y1="173.95" x2="422.77" y2="173.95" stroke="#9c9ce0" stroke-width="0.6"/>
<line x1="418.77" y1="178.35" x2="422.77" y2="178.35" stroke="#9c9ce0" stroke-width="0.6"/>
<circle cx="420.77" cy="176.15" r="1.8" fill="#eeeefc" stroke="#9c9ce0" stroke-width="0.6"/></g>
<g opacity="0.8"><line x1="445.85" y1="171.60" x2="445.85" y2="176.13" stroke="#9c9ce0" stroke-width="0.6"/>
<line x1="443.85" y1="171.60" x2="447.85" y2="171.60" stroke="#9c9ce0" stroke-width="0.6"/>
<line x1="443.85" y1="176.13" x2="447.85" y2="176.13" stroke="#9c9ce0" stroke-width="0.6"/>
<circle cx="445.85" cy="173.86" r="1.8" fill="#eeeefc" stroke="#9c9ce0" stroke-width="0.6"/></g>
<g opacity="0.8"><line x1="470.93" y1="169.24" x2="470.93" y2="173.91" stroke="#9c9ce0" stroke-width="0.6"/>
<line x1="468.93" y1="169.24" x2="472.93" y2="169.24" stroke="#9c9ce0" stroke-width="0.6"/>
<line x1="468.93" y1="173.91" x2="472.93" y2="173.91" stroke="#9c9ce0" stroke-width="0.6"/>
<circle cx="470.93" cy="171.57" r="1.8" fill="#eeeefc" stroke="#9c9ce0" stroke-width="0.6"/></g>
<g opacity="0.8"><line x1="496.01" y1="158.46" x2="496.01" y2="163.76" stroke="#9c9ce0" stroke-width="0.6"/>
<line x1="494.01" y1="158.46" x2="498.01" y2="158.46" stroke="#9c9ce0" stroke-width="0.6"/>
<line x1="494.01" y1="163.76" x2="498.01" y2="163.76" stroke="#9c9ce0" stroke-width="0.6"/>
<circle cx="496.01" cy="161.11" r="1.8" fill="#eeeefc" stroke="#9c9ce0" stroke-width="0.6"/></g>
<g opacity="0.8"><line x1="320.45" y1="171.93" x2="320.45" y2="176.45" stroke="#7a6cc0" stroke-width="0.6"/>
<line x1="318.45" y1="171.93" x2="322.45" y2="171.93" stroke="#7a6cc0" stroke-width="0.6"/>
<line x1="318.45" y1="176.45" x2="322.45" y2="176.45" stroke="#7a6cc0" stroke-width="0.6"/>
<circle cx="320.45" cy="174.19" r="1.8" fill="#a098d8" stroke="#7a6cc0" stroke-width="0.6"/></g>
<g opacity="0.8"><line x1="345.53" y1="171.26" x2="345.53" y2="175.81" stroke="#7a6cc0" stroke-width="0.6"/>
<line x1="343.53" y1="171.26" x2="347.53" y2="171.26" stroke="#7a6cc0" stroke-width="0.6"/>
<line x1="343.53" y1="175.81" x2="347.53" y2="175.81" stroke="#7a6cc0" stroke-width="0.6"/>
<circle cx="345.53" cy="173.54" r="1.8" fill="#a098d8" stroke="#7a6cc0" stroke-width="0.6"/></g>
<g opacity="0.8"><line x1="370.61" y1="174.29" x2="370.61" y2="178.67" stroke="#7a6cc0" stroke-width="0.6"/>
<line x1="368.61" y1="174.29" x2="372.61" y2="174.29" stroke="#7a6cc0" stroke-width="0.6"/>
<line x1="368.61" y1="178.67" x2="372.61" y2="178.67" stroke="#7a6cc0" stroke-width="0.6"/>
<circle cx="370.61" cy="176.48" r="1.8" fill="#a098d8" stroke="#7a6cc0" stroke-width="0.6"/></g>
<g opacity="0.8"><line x1="395.69" y1="175.30" x2="395.69" y2="179.62" stroke="#7a6cc0" stroke-width="0.6"/>
<line x1="393.69" y1="175.30" x2="397.69" y2="175.30" stroke="#7a6cc0" stroke-width="0.6"/>
<line x1="393.69" y1="179.62" x2="397.69" y2="179.62" stroke="#7a6cc0" stroke-width="0.6"/>
<circle cx="395.69" cy="177.46" r="1.8" fill="#a098d8" stroke="#7a6cc0" stroke-width="0.6"/></g>
<g opacity="0.8"><line x1="420.77" y1="166.88" x2="420.77" y2="171.69" stroke="#7a6cc0" stroke-width="0.6"/>
<line x1="418.77" y1="166.88" x2="422.77" y2="166.88" stroke="#7a6cc0" stroke-width="0.6"/>
<line x1="418.77" y1="171.69" x2="422.77" y2="171.69" stroke="#7a6cc0" stroke-width="0.6"/>
<circle cx="420.77" cy="169.28" r="1.8" fill="#a098d8" stroke="#7a6cc0" stroke-width="0.6"/></g>
<g opacity="0.8"><line x1="445.85" y1="160.82" x2="445.85" y2="165.98" stroke="#7a6cc0" stroke-width="0.6"/>
<line x1="443.85" y1="160.82" x2="447.85" y2="160.82" stroke="#7a6cc0" stroke-width="0.6"/>
<line x1="443.85" y1="165.98" x2="447.85" y2="165.98" stroke="#7a6cc0" stroke-width="0.6"/>
<circle cx="445.85" cy="163.40" r="1.8" fill="#a098d8" stroke="#7a6cc0" stroke-width="0.6"/></g>
<g opacity="0.8"><line x1="470.93" y1="155.77" x2="470.93" y2="161.22" stroke="#7a6cc0" stroke-width="0.6"/>
<line x1="468.93" y1="155.77" x2="472.93" y2="155.77" stroke="#7a6cc0" stroke-width="0.6"/>
<line x1="468.93" y1="161.22" x2="472.93" y2="161.22" stroke="#7a6cc0" stroke-width="0.6"/>
<circle cx="470.93" cy="158.49" r="1.8" fill="#a098d8" stroke="#7a6cc0" stroke-width="0.6"/></g>
<g opacity="0.8"><line x1="496.01" y1="150.38" x2="496.01" y2="156.15" stroke="#7a6cc0" stroke-width="0.6"/>
<line x1="494.01" y1="150.38" x2="498.01" y2="150.38" stroke="#7a6cc0" stroke-width="0.6"/>
<line x1="494.01" y1="156.15" x2="498.01" y2="156.15" stroke="#7a6cc0" stroke-width="0.6"/>
<circle cx="496.01" cy="153.26" r="1.8" fill="#a098d8" stroke="#7a6cc0" stroke-width="0.6"/></g>
<line x1="344.8" y1="155.6" x2="344.8" y2="184" stroke="#c00000" stroke-width="2.6" stroke-dasharray="9 2.5"/>
<line x1="342.6" y1="155.8" x2="347" y2="155.8" stroke="#c00000" stroke-width="1.4"/>
<line x1="339.6" y1="147.0" x2="506" y2="147.0" stroke="#c00000" stroke-width="2.8" stroke-dasharray="9.6 6.8"/>
<path d="M342.6,126 L346.4,126 L346.4,131.2 L349.2,131.2 L344.5,137 L339.8,131.2 L342.6,131.2 Z" fill="#c00000"/>
<text x="326.5" y="119.8" font-family='"Liberation Serif", serif' font-size="11.6" font-weight="bold" fill="#c00000" stroke="#c00000" stroke-width="0.15">LOD = 10 ppm</text>
<text x="511" y="152.6" font-family='"Liberation Serif", serif' font-size="11.2" font-weight="bold" fill="#c00000" stroke="#c00000" stroke-width="0.15">53.75</text>
<line x1="308.0" y1="20.5" x2="508.3" y2="20.5" stroke="#555" stroke-width="1.1"/>
<line x1="308.0" y1="184.0" x2="508.3" y2="184.0" stroke="#555" stroke-width="1.3"/>
<line x1="308.0" y1="20.0" x2="308.0" y2="184.6" stroke="#d03848" stroke-width="1.25"/>
<line x1="508.3" y1="20.0" x2="508.3" y2="184.6" stroke="#4a86c8" stroke-width="1.1"/>
<line x1="305.2" y1="184.00" x2="308.0" y2="184.00" stroke="#d03848" stroke-width="1"/>
<text x="303.6" y="187.90" text-anchor="end" font-family='"Liberation Serif", serif' font-size="12.6" fill="#111" stroke="#111" stroke-width="0.15">0</text>
<line x1="305.2" y1="151.30" x2="308.0" y2="151.30" stroke="#d03848" stroke-width="1"/>
<text x="303.6" y="155.20" text-anchor="end" font-family='"Liberation Serif", serif' font-size="12.6" fill="#111" stroke="#111" stroke-width="0.15">10</text>
<line x1="305.2" y1="118.60" x2="308.0" y2="118.60" stroke="#d03848" stroke-width="1"/>
<text x="303.6" y="122.50" text-anchor="end" font-family='"Liberation Serif", serif' font-size="12.6" fill="#111" stroke="#111" stroke-width="0.15">20</text>
<line x1="305.2" y1="85.90" x2="308.0" y2="85.90" stroke="#d03848" stroke-width="1"/>
<text x="303.6" y="89.80" text-anchor="end" font-family='"Liberation Serif", serif' font-size="12.6" fill="#111" stroke="#111" stroke-width="0.15">30</text>
<line x1="305.2" y1="53.20" x2="308.0" y2="53.20" stroke="#d03848" stroke-width="1"/>
<text x="303.6" y="57.10" text-anchor="end" font-family='"Liberation Serif", serif' font-size="12.6" fill="#111" stroke="#111" stroke-width="0.15">40</text>
<line x1="305.2" y1="20.50" x2="308.0" y2="20.50" stroke="#d03848" stroke-width="1"/>
<text x="303.6" y="24.40" text-anchor="end" font-family='"Liberation Serif", serif' font-size="12.6" fill="#111" stroke="#111" stroke-width="0.15">50</text>
<line x1="508.3" y1="184.00" x2="511.1" y2="184.00" stroke="#4a86c8" stroke-width="1"/>
<text x="512.7" y="187.90" font-family='"Liberation Serif", serif' font-size="12.6" fill="#111" stroke="#111" stroke-width="0.15">0</text>
<line x1="508.3" y1="129.50" x2="511.1" y2="129.50" stroke="#4a86c8" stroke-width="1"/>
<text x="512.7" y="133.40" font-family='"Liberation Serif", serif' font-size="12.6" fill="#111" stroke="#111" stroke-width="0.15">75</text>
<line x1="508.3" y1="75.00" x2="511.1" y2="75.00" stroke="#4a86c8" stroke-width="1"/>
<text x="512.7" y="78.90" font-family='"Liberation Serif", serif' font-size="12.6" fill="#111" stroke="#111" stroke-width="0.15">150</text>
<line x1="508.3" y1="20.50" x2="511.1" y2="20.50" stroke="#4a86c8" stroke-width="1"/>
<text x="512.7" y="24.40" font-family='"Liberation Serif", serif' font-size="12.6" fill="#111" stroke="#111" stroke-width="0.15">225</text>
<line x1="320.45" y1="184.0" x2="320.45" y2="186.8" stroke="#555" stroke-width="1"/>
<text x="320.45" y="198.80" text-anchor="middle" font-family='"Liberation Serif", serif' font-size="12.8" fill="#111" stroke="#111" stroke-width="0.15">5</text>
<line x1="345.53" y1="184.0" x2="345.53" y2="186.8" stroke="#555" stroke-width="1"/>
<text x="345.53" y="198.80" text-anchor="middle" font-family='"Liberation Serif", serif' font-size="12.8" fill="#111" stroke="#111" stroke-width="0.15">10</text>
<line x1="370.61" y1="184.0" x2="370.61" y2="186.8" stroke="#555" stroke-width="1"/>
<text x="370.61" y="198.80" text-anchor="middle" font-family='"Liberation Serif", serif' font-size="12.8" fill="#111" stroke="#111" stroke-width="0.15">20</text>
<line x1="395.69" y1="184.0" x2="395.69" y2="186.8" stroke="#555" stroke-width="1"/>
<text x="395.69" y="198.80" text-anchor="middle" font-family='"Liberation Serif", serif' font-size="12.8" fill="#111" stroke="#111" stroke-width="0.15">50</text>
<line x1="420.77" y1="184.0" x2="420.77" y2="186.8" stroke="#555" stroke-width="1"/>
<text x="420.77" y="198.80" text-anchor="middle" font-family='"Liberation Serif", serif' font-size="12.8" fill="#111" stroke="#111" stroke-width="0.15">100</text>
<line x1="445.85" y1="184.0" x2="445.85" y2="186.8" stroke="#555" stroke-width="1"/>
<text x="445.85" y="198.80" text-anchor="middle" font-family='"Liberation Serif", serif' font-size="12.8" fill="#111" stroke="#111" stroke-width="0.15">250</text>
<line x1="470.93" y1="184.0" x2="470.93" y2="186.8" stroke="#555" stroke-width="1"/>
<text x="470.93" y="198.80" text-anchor="middle" font-family='"Liberation Serif", serif' font-size="12.8" fill="#111" stroke="#111" stroke-width="0.15">500</text>
<line x1="496.01" y1="184.0" x2="496.01" y2="186.8" stroke="#555" stroke-width="1"/>
<text x="496.01" y="198.80" text-anchor="middle" font-family='"Liberation Serif", serif' font-size="12.8" fill="#111" stroke="#111" stroke-width="0.15">1000</text>
<text x="406.7" y="214" text-anchor="middle" font-family='"Liberation Serif", serif' font-size="11" fill="#111" stroke="#111" stroke-width="0.15">Concentration (ppm)</text>
<text transform="translate(286.6,91.5) rotate(-90)" text-anchor="middle" font-family='"Liberation Serif", serif' font-size="10.8" fill="#111" stroke="#111" stroke-width="0.15">Euclidean distance for each dye</text>
<text transform="translate(548.2,105.7) rotate(-90)" text-anchor="middle" font-family='"Liberation Serif", serif' font-size="12" fill="#111" stroke="#111" stroke-width="0.15">Total euclidean distance</text>
<circle cx="325.5" cy="34.2" r="2.4" fill="#7aaee0" stroke="#5a90d0" stroke-width="0.8"/>
<text x="335.7" y="37.800000000000004" font-family='"Liberation Serif", serif' font-size="11" fill="#111" stroke="#111" stroke-width="0.15">PA</text>
<circle cx="325.5" cy="47.3" r="2.4" fill="#b4b4b4" stroke="#909090" stroke-width="0.8"/>
<text x="335.7" y="50.9" font-family='"Liberation Serif", serif' font-size="11" fill="#111" stroke="#111" stroke-width="0.15">o-TOL</text>
<circle cx="325.5" cy="60.6" r="2.4" fill="#e6e6fa" stroke="#a0a0e2" stroke-width="0.8"/>
<text x="335.7" y="64.2" font-family='"Liberation Serif", serif' font-size="11" fill="#111" stroke="#111" stroke-width="0.15">BPB</text>
<circle cx="325.5" cy="74.0" r="2.4" fill="#fbd0c0" stroke="#f0a080" stroke-width="0.8"/>
<text x="335.7" y="77.6" font-family='"Liberation Serif", serif' font-size="11" fill="#111" stroke="#111" stroke-width="0.15">TSF</text>
<circle cx="373.3" cy="34.2" r="2.4" fill="#d4f2fa" stroke="#a8e0f4" stroke-width="0.8"/>
<text x="383.5" y="37.800000000000004" font-family='"Liberation Serif", serif' font-size="11" fill="#111" stroke="#111" stroke-width="0.15">MC540</text>
<circle cx="373.3" cy="47.3" r="2.4" fill="#f4b070" stroke="#ec9840" stroke-width="0.8"/>
<text x="383.5" y="50.9" font-family='"Liberation Serif", serif' font-size="11" fill="#111" stroke="#111" stroke-width="0.15">ODA</text>
<circle cx="373.3" cy="60.6" r="2.4" fill="#ec7890" stroke="#d04868" stroke-width="0.8"/>
<text x="383.5" y="64.2" font-family='"Liberation Serif", serif' font-size="11" fill="#111" stroke="#111" stroke-width="0.15">CR</text>
<circle cx="373.3" cy="74.0" r="2.4" fill="#9c94d4" stroke="#7a6cc0" stroke-width="0.8"/>
<text x="383.5" y="77.6" font-family='"Liberation Serif", serif' font-size="11" fill="#111" stroke="#111" stroke-width="0.15">LMG</text>
<rect x="64.40" y="235.20" width="18.08" height="17.56" fill="#fefbfc"/>
<rect x="64.40" y="252.46" width="18.08" height="17.56" fill="#fefbfc"/>
<rect x="64.40" y="269.73" width="18.08" height="17.56" fill="#fcf2f4"/>
<rect x="64.40" y="286.99" width="18.08" height="17.56" fill="#fefbfc"/>
<rect x="64.40" y="304.25" width="18.08" height="17.56" fill="#fefbfc"/>
<rect x="64.40" y="321.51" width="18.08" height="17.56" fill="#fcf2f4"/>
<rect x="64.40" y="338.77" width="18.08" height="17.56" fill="#fefbfc"/>
<rect x="64.40" y="356.04" width="18.08" height="17.56" fill="#fefbfc"/>
<rect x="82.18" y="235.20" width="18.08" height="17.56" fill="#ecbcca"/>
<rect x="82.18" y="252.46" width="18.08" height="17.56" fill="#edc0cd"/>
<rect x="82.18" y="269.73" width="18.08" height="17.56" fill="#efc3d0"/>
<rect x="82.18" y="286.99" width="18.08" height="17.56" fill="#f6d9e1"/>
<rect x="82.18" y="304.25" width="18.08" height="17.56" fill="#fbedf1"/>
<rect x="82.18" y="321.51" width="18.08" height="17.56" fill="#fcf2f4"/>
<rect x="82.18" y="338.77" width="18.08" height="17.56" fill="#fdf6f8"/>
<rect x="82.18" y="356.04" width="18.08" height="17.56" fill="#fcf2f4"/>
<rect x="99.96" y="235.20" width="18.08" height="17.56" fill="#aaa6dc"/>
<rect x="99.96" y="252.46" width="18.08" height="17.56" fill="#b5a8da"/>
<rect x="99.96" y="269.73" width="18.08" height="17.56" fill="#ccaed4"/>
<rect x="99.96" y="286.99" width="18.08" height="17.56" fill="#ecbcca"/>
<rect x="99.96" y="304.25" width="18.08" height="17.56" fill="#f5d5de"/>
<rect x="99.96" y="321.51" width="18.08" height="17.56" fill="#f7dee5"/>
<rect x="99.96" y="338.77" width="18.08" height="17.56" fill="#fcf2f4"/>
<rect x="99.96" y="356.04" width="18.08" height="17.56" fill="#fefbfc"/>
<rect x="117.74" y="235.20" width="18.08" height="17.56" fill="#f9e3e9"/>
<rect x="117.74" y="252.46" width="18.08" height="17.56" fill="#f9e3e9"/>
<rect x="117.74" y="269.73" width="18.08" height="17.56" fill="#fbedf1"/>
<rect x="117.74" y="286.99" width="18.08" height="17.56" fill="#fdf6f8"/>
<rect x="117.74" y="304.25" width="18.08" height="17.56" fill="#fefbfc"/>
<rect x="117.74" y="321.51" width="18.08" height="17.56" fill="#fcf2f4"/>
<rect x="117.74" y="338.77" width="18.08" height="17.56" fill="#fefbfc"/>
<rect x="117.74" y="356.04" width="18.08" height="17.56" fill="#fefbfc"/>
<rect x="135.52" y="235.20" width="18.08" height="17.56" fill="#fae8ed"/>
<rect x="135.52" y="252.46" width="18.08" height="17.56" fill="#fae8ed"/>
<rect x="135.52" y="269.73" width="18.08" height="17.56" fill="#fdf6f8"/>
<rect x="135.52" y="286.99" width="18.08" height="17.56" fill="#fdf6f8"/>
<rect x="135.52" y="304.25" width="18.08" height="17.56" fill="#fbedf1"/>
<rect x="135.52" y="321.51" width="18.08" height="17.56" fill="#fcf2f4"/>
<rect x="135.52" y="338.77" width="18.08" height="17.56" fill="#fefbfc"/>
<rect x="135.52" y="356.04" width="18.08" height="17.56" fill="#fefbfc"/>
<rect x="153.30" y="235.20" width="18.08" height="17.56" fill="#ecbcca"/>
<rect x="153.30" y="252.46" width="18.08" height="17.56" fill="#edc0cd"/>
<rect x="153.30" y="269.73" width="18.08" height="17.56" fill="#edc0cd"/>
<rect x="153.30" y="286.99" width="18.08" height="17.56" fill="#f7dee5"/>
<rect x="153.30" y="304.25" width="18.08" height="17.56" fill="#fcf2f4"/>
<rect x="153.30" y="321.51" width="18.08" height="17.56" fill="#fcf2f4"/>
<rect x="153.30" y="338.77" width="18.08" height="17.56" fill="#fdf6f8"/>
<rect x="153.30" y="356.04" width="18.08" height="17.56" fill="#fdf6f8"/>
<rect x="171.08" y="235.20" width="18.08" height="17.56" fill="#e0b6ce"/>
<rect x="171.08" y="252.46" width="18.08" height="17.56" fill="#eabbcb"/>
<rect x="171.08" y="269.73" width="18.08" height="17.56" fill="#eabbcb"/>
<rect x="171.08" y="286.99" width="18.08" height="17.56" fill="#f5d5de"/>
<rect x="171.08" y="304.25" width="18.08" height="17.56" fill="#fbedf1"/>
<rect x="171.08" y="321.51" width="18.08" height="17.56" fill="#fcf2f4"/>
<rect x="171.08" y="338.77" width="18.08" height="17.56" fill="#fdf6f8"/>
<rect x="171.08" y="356.04" width="18.08" height="17.56" fill="#fefbfc"/>
<rect x="188.86" y="235.20" width="18.08" height="17.56" fill="#f9e3e9"/>
<rect x="188.86" y="252.46" width="18.08" height="17.56" fill="#fae8ed"/>
<rect x="188.86" y="269.73" width="18.08" height="17.56" fill="#fbedf1"/>
<rect x="188.86" y="286.99" width="18.08" height="17.56" fill="#fcf2f4"/>
<rect x="188.86" y="304.25" width="18.08" height="17.56" fill="#fdf6f8"/>
<rect x="188.86" y="321.51" width="18.08" height="17.56" fill="#fdf6f8"/>
<rect x="188.86" y="338.77" width="18.08" height="17.56" fill="#fdf6f8"/>
<rect x="188.86" y="356.04" width="18.08" height="17.56" fill="#fdf6f8"/>
<rect x="206.64" y="235.20" width="18.08" height="17.56" fill="#fae8ed"/>
<rect x="206.64" y="252.46" width="18.08" height="17.56" fill="#fbedf1"/>
<rect x="206.64" y="269.73" width="18.08" height="17.56" fill="#fdf6f8"/>
<rect x="206.64" y="286.99" width="18.08" height="17.56" fill="#fdf6f8"/>
<rect x="206.64" y="304.25" width="18.08" height="17.56" fill="#fbedf1"/>
<rect x="206.64" y="321.51" width="18.08" height="17.56" fill="#fdf6f8"/>
<rect x="206.64" y="338.77" width="18.08" height="17.56" fill="#fbedf1"/>
<rect x="206.64" y="356.04" width="18.08" height="17.56" fill="#fdf6f8"/>
<rect x="224.42" y="235.20" width="18.08" height="17.56" fill="#fefbfc"/>
<rect x="224.42" y="252.46" width="18.08" height="17.56" fill="#fefbfc"/>
<rect x="224.42" y="269.73" width="18.08" height="17.56" fill="#fdf6f8"/>
<rect x="224.42" y="286.99" width="18.08" height="17.56" fill="#fdf6f8"/>
<rect x="224.42" y="304.25" width="18.08" height="17.56" fill="#fdf6f8"/>
<rect x="224.42" y="321.51" width="18.08" height="17.56" fill="#fefbfc"/>
<rect x="224.42" y="338.77" width="18.08" height="17.56" fill="#fefbfc"/>
<rect x="224.42" y="356.04" width="18.08" height="17.56" fill="#fefbfc"/>
<rect x="242.20" y="235.20" width="18.08" height="17.56" fill="#fdf6f8"/>
<rect x="242.20" y="252.46" width="18.08" height="17.56" fill="#fdf6f8"/>
<rect x="242.20" y="269.73" width="18.08" height="17.56" fill="#fdf6f8"/>
<rect x="242.20" y="286.99" width="18.08" height="17.56" fill="#fcf2f4"/>
<rect x="242.20" y="304.25" width="18.08" height="17.56" fill="#fdf6f8"/>
<rect x="242.20" y="321.51" width="18.08" height="17.56" fill="#fdf6f8"/>
<rect x="242.20" y="338.77" width="18.08" height="17.56" fill="#fdf6f8"/>
<rect x="242.20" y="356.04" width="18.08" height="17.56" fill="#fefbfc"/>
<rect x="259.98" y="235.20" width="18.08" height="17.56" fill="#f5d5de"/>
<rect x="259.98" y="252.46" width="18.08" height="17.56" fill="#f6d9e1"/>
<rect x="259.98" y="269.73" width="18.08" height="17.56" fill="#f7dee5"/>
<rect x="259.98" y="286.99" width="18.08" height="17.56" fill="#f7dee5"/>
<rect x="259.98" y="304.25" width="18.08" height="17.56" fill="#f6d9e1"/>
<rect x="259.98" y="321.51" width="18.08" height="17.56" fill="#f9e3e9"/>
<rect x="259.98" y="338.77" width="18.08" height="17.56" fill="#fae8ed"/>
<rect x="259.98" y="356.04" width="18.08" height="17.56" fill="#fcf2f4"/>
<rect x="277.76" y="235.20" width="18.08" height="17.56" fill="#fbedf1"/>
<rect x="277.76" y="252.46" width="18.08" height="17.56" fill="#fdf6f8"/>
<rect x="277.76" y="269.73" width="18.08" height="17.56" fill="#fdf6f8"/>
<rect x="277.76" y="286.99" width="18.08" height="17.56" fill="#fdf6f8"/>
<rect x="277.76" y="304.25" width="18.08" height="17.56" fill="#fefbfc"/>
<rect x="277.76" y="321.51" width="18.08" height="17.56" fill="#fdf6f8"/>
<rect x="277.76" y="338.77" width="18.08" height="17.56" fill="#fefbfc"/>
<rect x="277.76" y="356.04" width="18.08" height="17.56" fill="#fefbfc"/>
<rect x="295.54" y="235.20" width="18.08" height="17.56" fill="#fefbfc"/>
<rect x="295.54" y="252.46" width="18.08" height="17.56" fill="#fefbfc"/>
<rect x="295.54" y="269.73" width="18.08" height="17.56" fill="#fefbfc"/>
<rect x="295.54" y="286.99" width="18.08" height="17.56" fill="#fcf2f4"/>
<rect x="295.54" y="304.25" width="18.08" height="17.56" fill="#fefbfc"/>
<rect x="295.54" y="321.51" width="18.08" height="17.56" fill="#fcf2f4"/>
<rect x="295.54" y="338.77" width="18.08" height="17.56" fill="#fefbfc"/>
<rect x="295.54" y="356.04" width="18.08" height="17.56" fill="#fefbfc"/>
<rect x="313.32" y="235.20" width="18.08" height="17.56" fill="#fae8ed"/>
<rect x="313.32" y="252.46" width="18.08" height="17.56" fill="#fbedf1"/>
<rect x="313.32" y="269.73" width="18.08" height="17.56" fill="#fdf6f8"/>
<rect x="313.32" y="286.99" width="18.08" height="17.56" fill="#fdf6f8"/>
<rect x="313.32" y="304.25" width="18.08" height="17.56" fill="#ffffff"/>
<rect x="313.32" y="321.51" width="18.08" height="17.56" fill="#fefbfc"/>
<rect x="313.32" y="338.77" width="18.08" height="17.56" fill="#fefbfc"/>
<rect x="313.32" y="356.04" width="18.08" height="17.56" fill="#fefbfc"/>
<rect x="331.10" y="235.20" width="18.08" height="17.56" fill="#fdf6f8"/>
<rect x="331.10" y="252.46" width="18.08" height="17.56" fill="#fdf6f8"/>
<rect x="331.10" y="269.73" width="18.08" height="17.56" fill="#ffffff"/>
<rect x="331.10" y="286.99" width="18.08" height="17.56" fill="#ffffff"/>
<rect x="331.10" y="304.25" width="18.08" height="17.56" fill="#fefbfc"/>
<rect x="331.10" y="321.51" width="18.08" height="17.56" fill="#fefbfc"/>
<rect x="331.10" y="338.77" width="18.08" height="17.56" fill="#ffffff"/>
<rect x="331.10" y="356.04" width="18.08" height="17.56" fill="#fefbfc"/>
<rect x="348.88" y="235.20" width="18.08" height="17.56" fill="#f7dee5"/>
<rect x="348.88" y="252.46" width="18.08" height="17.56" fill="#f7dee5"/>
<rect x="348.88" y="269.73" width="18.08" height="17.56" fill="#f7dee5"/>
<rect x="348.88" y="286.99" width="18.08" height="17.56" fill="#f7dee5"/>
<rect x="348.88" y="304.25" width="18.08" height="17.56" fill="#f7dee5"/>
<rect x="348.88" y="321.51" width="18.08" height="17.56" fill="#f7dee5"/>
<rect x="348.88" y="338.77" width="18.08" height="17.56" fill="#f9e3e9"/>
<rect x="348.88" y="356.04" width="18.08" height="17.56" fill="#fcf2f4"/>
<rect x="366.66" y="235.20" width="18.08" height="17.56" fill="#fae8ed"/>
<rect x="366.66" y="252.46" width="18.08" height="17.56" fill="#fbedf1"/>
<rect x="366.66" y="269.73" width="18.08" height="17.56" fill="#fbedf1"/>
<rect x="366.66" y="286.99" width="18.08" height="17.56" fill="#f9e3e9"/>
<rect x="366.66" y="304.25" width="18.08" height="17.56" fill="#fae8ed"/>
<rect x="366.66" y="321.51" width="18.08" height="17.56" fill="#fae8ed"/>
<rect x="366.66" y="338.77" width="18.08" height="17.56" fill="#fcf2f4"/>
<rect x="366.66" y="356.04" width="18.08" height="17.56" fill="#fdf6f8"/>
<rect x="384.44" y="235.20" width="18.08" height="17.56" fill="#f0c7d3"/>
<rect x="384.44" y="252.46" width="18.08" height="17.56" fill="#f4d2db"/>
<rect x="384.44" y="269.73" width="18.08" height="17.56" fill="#f5d5de"/>
<rect x="384.44" y="286.99" width="18.08" height="17.56" fill="#f1cad5"/>
<rect x="384.44" y="304.25" width="18.08" height="17.56" fill="#f5d5de"/>
<rect x="384.44" y="321.51" width="18.08" height="17.56" fill="#f6d9e1"/>
<rect x="384.44" y="338.77" width="18.08" height="17.56" fill="#f7dee5"/>
<rect x="384.44" y="356.04" width="18.08" height="17.56" fill="#fcf2f4"/>
<rect x="402.22" y="235.20" width="18.08" height="17.56" fill="#fae8ed"/>
<rect x="402.22" y="252.46" width="18.08" height="17.56" fill="#f7dee5"/>
<rect x="402.22" y="269.73" width="18.08" height="17.56" fill="#fcf2f4"/>
<rect x="402.22" y="286.99" width="18.08" height="17.56" fill="#fdf6f8"/>
<rect x="402.22" y="304.25" width="18.08" height="17.56" fill="#fdf6f8"/>
<rect x="402.22" y="321.51" width="18.08" height="17.56" fill="#fdf6f8"/>
<rect x="402.22" y="338.77" width="18.08" height="17.56" fill="#fdf6f8"/>
<rect x="402.22" y="356.04" width="18.08" height="17.56" fill="#fefbfc"/>
<rect x="420.00" y="235.20" width="18.08" height="17.56" fill="#ddb5ce"/>
<rect x="420.00" y="252.46" width="18.08" height="17.56" fill="#ddb5ce"/>
<rect x="420.00" y="269.73" width="18.08" height="17.56" fill="#ecbcca"/>
<rect x="420.00" y="286.99" width="18.08" height="17.56" fill="#f5d5de"/>
<rect x="420.00" y="304.25" width="18.08" height="17.56" fill="#f6d9e1"/>
<rect x="420.00" y="321.51" width="18.08" height="17.56" fill="#f9e3e9"/>
<rect x="420.00" y="338.77" width="18.08" height="17.56" fill="#fae8ed"/>
<rect x="420.00" y="356.04" width="18.08" height="17.56" fill="#fcf2f4"/>
<rect x="437.78" y="235.20" width="18.08" height="17.56" fill="#fdf6f8"/>
<rect x="437.78" y="252.46" width="18.08" height="17.56" fill="#fffefe"/>
<rect x="437.78" y="269.73" width="18.08" height="17.56" fill="#fdf6f8"/>
<rect x="437.78" y="286.99" width="18.08" height="17.56" fill="#fdf6f8"/>
<rect x="437.78" y="304.25" width="18.08" height="17.56" fill="#fffefe"/>
<rect x="437.78" y="321.51" width="18.08" height="17.56" fill="#fdf6f8"/>
<rect x="437.78" y="338.77" width="18.08" height="17.56" fill="#fffefe"/>
<rect x="437.78" y="356.04" width="18.08" height="17.56" fill="#fdf6f8"/>
<rect x="455.56" y="235.20" width="18.08" height="17.56" fill="#f9e3e9"/>
<rect x="455.56" y="252.46" width="18.08" height="17.56" fill="#fbedf1"/>
<rect x="455.56" y="269.73" width="18.08" height="17.56" fill="#fefbfc"/>
<rect x="455.56" y="286.99" width="18.08" height="17.56" fill="#fefbfc"/>
<rect x="455.56" y="304.25" width="18.08" height="17.56" fill="#fefbfc"/>
<rect x="455.56" y="321.51" width="18.08" height="17.56" fill="#fefbfc"/>
<rect x="455.56" y="338.77" width="18.08" height="17.56" fill="#fffefe"/>
<rect x="455.56" y="356.04" width="18.08" height="17.56" fill="#fefbfc"/>
<rect x="473.34" y="235.20" width="18.08" height="17.56" fill="#f9e3e9"/>
<rect x="473.34" y="252.46" width="18.08" height="17.56" fill="#fae8ed"/>
<rect x="473.34" y="269.73" width="18.08" height="17.56" fill="#fbedf1"/>
<rect x="473.34" y="286.99" width="18.08" height="17.56" fill="#fbedf1"/>
<rect x="473.34" y="304.25" width="18.08" height="17.56" fill="#fcf2f4"/>
<rect x="473.34" y="321.51" width="18.08" height="17.56" fill="#fcf2f4"/>
<rect x="473.34" y="338.77" width="18.08" height="17.56" fill="#fdf6f8"/>
<rect x="473.34" y="356.04" width="18.08" height="17.56" fill="#fdf6f8"/>
<rect x="491.12" y="235.20" width="18.08" height="17.56" fill="#f4d2db"/>
<rect x="491.12" y="252.46" width="18.08" height="17.56" fill="#fcf2f4"/>
<rect x="491.12" y="269.73" width="18.08" height="17.56" fill="#fefbfc"/>
<rect x="491.12" y="286.99" width="18.08" height="17.56" fill="#fefbfc"/>
<rect x="491.12" y="304.25" width="18.08" height="17.56" fill="#fdf6f8"/>
<rect x="491.12" y="321.51" width="18.08" height="17.56" fill="#fefbfc"/>
<rect x="491.12" y="338.77" width="18.08" height="17.56" fill="#fefbfc"/>
<rect x="491.12" y="356.04" width="18.08" height="17.56" fill="#fefbfc"/>
<rect x="81.60" y="232.90" width="17.70" height="140.40" fill="none" stroke="#8c8c8c" stroke-width="1.1" stroke-dasharray="4.4 4.2"/>
<rect x="99.70" y="232.90" width="16.40" height="140.40" fill="none" stroke="#8c8c8c" stroke-width="1.1" stroke-dasharray="4.4 4.2"/>
<rect x="153.40" y="232.90" width="17.30" height="140.40" fill="none" stroke="#8c8c8c" stroke-width="1.1" stroke-dasharray="4.4 4.2"/>
<rect x="173.00" y="232.90" width="15.70" height="140.40" fill="none" stroke="#8c8c8c" stroke-width="1.1" stroke-dasharray="4.4 4.2"/>
<rect x="259.20" y="232.90" width="19.40" height="140.40" fill="none" stroke="#8c8c8c" stroke-width="1.1" stroke-dasharray="4.4 4.2"/>
<rect x="384.10" y="232.90" width="16.40" height="140.40" fill="none" stroke="#8c8c8c" stroke-width="1.1" stroke-dasharray="4.4 4.2"/>
<rect x="419.80" y="232.90" width="16.40" height="140.40" fill="none" stroke="#8c8c8c" stroke-width="1.1" stroke-dasharray="4.4 4.2"/>
<rect x="491.30" y="232.90" width="17.60" height="140.40" fill="none" stroke="#8c8c8c" stroke-width="1.1" stroke-dasharray="4.4 4.2"/>
<rect x="64.4" y="235.2" width="444.5" height="138.10000000000002" fill="none" stroke="#111" stroke-width="1.3"/>
<line x1="60.400000000000006" y1="243.83" x2="64.4" y2="243.83" stroke="#111" stroke-width="1"/>
<text x="56.60000000000001" y="247.83" text-anchor="end" font-family='"Liberation Serif", serif' font-size="11.6" fill="#111" stroke="#111" stroke-width="0.15">1500</text>
<line x1="60.400000000000006" y1="261.09" x2="64.4" y2="261.09" stroke="#111" stroke-width="1"/>
<text x="56.60000000000001" y="265.09" text-anchor="end" font-family='"Liberation Serif", serif' font-size="11.6" fill="#111" stroke="#111" stroke-width="0.15">1000</text>
<line x1="60.400000000000006" y1="278.36" x2="64.4" y2="278.36" stroke="#111" stroke-width="1"/>
<text x="56.60000000000001" y="282.36" text-anchor="end" font-family='"Liberation Serif", serif' font-size="11.6" fill="#111" stroke="#111" stroke-width="0.15">800</text>
<line x1="60.400000000000006" y1="295.62" x2="64.4" y2="295.62" stroke="#111" stroke-width="1"/>
<text x="56.60000000000001" y="299.62" text-anchor="end" font-family='"Liberation Serif", serif' font-size="11.6" fill="#111" stroke="#111" stroke-width="0.15">500</text>
<line x1="60.400000000000006" y1="312.88" x2="64.4" y2="312.88" stroke="#111" stroke-width="1"/>
<text x="56.60000000000001" y="316.88" text-anchor="end" font-family='"Liberation Serif", serif' font-size="11.6" fill="#111" stroke="#111" stroke-width="0.15">250</text>
<line x1="60.400000000000006" y1="330.14" x2="64.4" y2="330.14" stroke="#111" stroke-width="1"/>
<text x="56.60000000000001" y="334.14" text-anchor="end" font-family='"Liberation Serif", serif' font-size="11.6" fill="#111" stroke="#111" stroke-width="0.15">100</text>
<line x1="60.400000000000006" y1="347.41" x2="64.4" y2="347.41" stroke="#111" stroke-width="1"/>
<text x="56.60000000000001" y="351.41" text-anchor="end" font-family='"Liberation Serif", serif' font-size="11.6" fill="#111" stroke="#111" stroke-width="0.15">50</text>
<line x1="60.400000000000006" y1="364.67" x2="64.4" y2="364.67" stroke="#111" stroke-width="1"/>
<text x="56.60000000000001" y="368.67" text-anchor="end" font-family='"Liberation Serif", serif' font-size="11.6" fill="#111" stroke="#111" stroke-width="0.15">20</text>
<line x1="73.29" y1="373.3" x2="73.29" y2="377.6" stroke="#111" stroke-width="1"/>
<text transform="translate(81.79,385.60) rotate(-45)" text-anchor="end" font-family='"Liberation Serif", serif' font-size="11" fill="#111" stroke="#111" stroke-width="0.15">DNPH</text>
<line x1="91.07" y1="373.3" x2="91.07" y2="377.6" stroke="#111" stroke-width="1"/>
<text transform="translate(99.57,385.60) rotate(-45)" text-anchor="end" font-family='"Liberation Serif", serif' font-size="11" fill="#111" stroke="#111" stroke-width="0.15">PA</text>
<line x1="108.85" y1="373.3" x2="108.85" y2="377.6" stroke="#111" stroke-width="1"/>
<text transform="translate(117.35,385.60) rotate(-45)" text-anchor="end" font-family='"Liberation Serif", serif' font-size="11" fill="#111" stroke="#111" stroke-width="0.15">MC540</text>
<line x1="126.63" y1="373.3" x2="126.63" y2="377.6" stroke="#111" stroke-width="1"/>
<text transform="translate(135.13,385.60) rotate(-45)" text-anchor="end" font-family='"Liberation Serif", serif' font-size="11" fill="#111" stroke="#111" stroke-width="0.15">NR</text>
<line x1="144.41" y1="373.3" x2="144.41" y2="377.6" stroke="#111" stroke-width="1"/>
<text transform="translate(152.91,385.60) rotate(-45)" text-anchor="end" font-family='"Liberation Serif", serif' font-size="11" fill="#111" stroke="#111" stroke-width="0.15">DO3</text>
<line x1="162.19" y1="373.3" x2="162.19" y2="377.6" stroke="#111" stroke-width="1"/>
<text transform="translate(170.69,385.60) rotate(-45)" text-anchor="end" font-family='"Liberation Serif", serif' font-size="11" fill="#111" stroke="#111" stroke-width="0.15">o-TOL</text>
<line x1="179.97" y1="373.3" x2="179.97" y2="377.6" stroke="#111" stroke-width="1"/>
<text transform="translate(188.47,385.60) rotate(-45)" text-anchor="end" font-family='"Liberation Serif", serif' font-size="11" fill="#111" stroke="#111" stroke-width="0.15">ODA</text>
<line x1="197.75" y1="373.3" x2="197.75" y2="377.6" stroke="#111" stroke-width="1"/>
<text transform="translate(206.25,385.60) rotate(-45)" text-anchor="end" font-family='"Liberation Serif", serif' font-size="11" fill="#111" stroke="#111" stroke-width="0.15">MB</text>
<line x1="215.53" y1="373.3" x2="215.53" y2="377.6" stroke="#111" stroke-width="1"/>
<text transform="translate(224.03,385.60) rotate(-45)" text-anchor="end" font-family='"Liberation Serif", serif' font-size="11" fill="#111" stroke="#111" stroke-width="0.15">CoTCPP</text>
<line x1="233.31" y1="373.3" x2="233.31" y2="377.6" stroke="#111" stroke-width="1"/>
<text transform="translate(241.81,385.60) rotate(-45)" text-anchor="end" font-family='"Liberation Serif", serif' font-size="11" fill="#111" stroke="#111" stroke-width="0.15">NiOEP</text>
<line x1="251.09" y1="373.3" x2="251.09" y2="377.6" stroke="#111" stroke-width="1"/>
<text transform="translate(259.59,385.60) rotate(-45)" text-anchor="end" font-family='"Liberation Serif", serif' font-size="11" fill="#111" stroke="#111" stroke-width="0.15">FeTCP</text>
<line x1="268.87" y1="373.3" x2="268.87" y2="377.6" stroke="#111" stroke-width="1"/>
<text transform="translate(277.37,385.60) rotate(-45)" text-anchor="end" font-family='"Liberation Serif", serif' font-size="11" fill="#111" stroke="#111" stroke-width="0.15">BPB</text>
<line x1="286.65" y1="373.3" x2="286.65" y2="377.6" stroke="#111" stroke-width="1"/>
<text transform="translate(295.15,385.60) rotate(-45)" text-anchor="end" font-family='"Liberation Serif", serif' font-size="11" fill="#111" stroke="#111" stroke-width="0.15">PV</text>
<line x1="304.43" y1="373.3" x2="304.43" y2="377.6" stroke="#111" stroke-width="1"/>
<text transform="translate(312.93,385.60) rotate(-45)" text-anchor="end" font-family='"Liberation Serif", serif' font-size="11" fill="#111" stroke="#111" stroke-width="0.15">BP</text>
<line x1="322.21" y1="373.3" x2="322.21" y2="377.6" stroke="#111" stroke-width="1"/>
<text transform="translate(330.71,385.60) rotate(-45)" text-anchor="end" font-family='"Liberation Serif", serif' font-size="11" fill="#111" stroke="#111" stroke-width="0.15">MR</text>
<line x1="339.99" y1="373.3" x2="339.99" y2="377.6" stroke="#111" stroke-width="1"/>
<text transform="translate(348.49,385.60) rotate(-45)" text-anchor="end" font-family='"Liberation Serif", serif' font-size="11" fill="#111" stroke="#111" stroke-width="0.15">NY</text>
<line x1="357.77" y1="373.3" x2="357.77" y2="377.6" stroke="#111" stroke-width="1"/>
<text transform="translate(366.27,385.60) rotate(-45)" text-anchor="end" font-family='"Liberation Serif", serif' font-size="11" fill="#111" stroke="#111" stroke-width="0.15">TB</text>
<line x1="375.55" y1="373.3" x2="375.55" y2="377.6" stroke="#111" stroke-width="1"/>
<text transform="translate(384.05,385.60) rotate(-45)" text-anchor="end" font-family='"Liberation Serif", serif' font-size="11" fill="#111" stroke="#111" stroke-width="0.15">CP</text>
<line x1="393.33" y1="373.3" x2="393.33" y2="377.6" stroke="#111" stroke-width="1"/>
<text transform="translate(401.83,385.60) rotate(-45)" text-anchor="end" font-family='"Liberation Serif", serif' font-size="11" fill="#111" stroke="#111" stroke-width="0.15">CR</text>
<line x1="411.11" y1="373.3" x2="411.11" y2="377.6" stroke="#111" stroke-width="1"/>
<text transform="translate(419.61,385.60) rotate(-45)" text-anchor="end" font-family='"Liberation Serif", serif' font-size="11" fill="#111" stroke="#111" stroke-width="0.15">AY36</text>
<line x1="428.89" y1="373.3" x2="428.89" y2="377.6" stroke="#111" stroke-width="1"/>
<text transform="translate(437.39,385.60) rotate(-45)" text-anchor="end" font-family='"Liberation Serif", serif' font-size="11" fill="#111" stroke="#111" stroke-width="0.15">TSF</text>
<line x1="446.67" y1="373.3" x2="446.67" y2="377.6" stroke="#111" stroke-width="1"/>
<text transform="translate(455.17,385.60) rotate(-45)" text-anchor="end" font-family='"Liberation Serif", serif' font-size="11" fill="#111" stroke="#111" stroke-width="0.15">IC</text>
<line x1="464.45" y1="373.3" x2="464.45" y2="377.6" stroke="#111" stroke-width="1"/>
<text transform="translate(472.95,385.60) rotate(-45)" text-anchor="end" font-family='"Liberation Serif", serif' font-size="11" fill="#111" stroke="#111" stroke-width="0.15">BY1</text>
<line x1="482.23" y1="373.3" x2="482.23" y2="377.6" stroke="#111" stroke-width="1"/>
<text transform="translate(490.73,385.60) rotate(-45)" text-anchor="end" font-family='"Liberation Serif", serif' font-size="11" fill="#111" stroke="#111" stroke-width="0.15">BPR</text>
<line x1="500.01" y1="373.3" x2="500.01" y2="377.6" stroke="#111" stroke-width="1"/>
<text transform="translate(508.51,385.60) rotate(-45)" text-anchor="end" font-family='"Liberation Serif", serif' font-size="11" fill="#111" stroke="#111" stroke-width="0.15">LMG</text>
<text x="300.9" y="422" text-anchor="middle" font-family='"Liberation Serif", serif' font-size="12" fill="#111" stroke="#111" stroke-width="0.15">Dye</text>
<text transform="translate(24.8,303) rotate(-90)" text-anchor="middle" font-family='"Liberation Serif", serif' font-size="12.6" fill="#111" stroke="#111" stroke-width="0.15">Trans-2-hexenal (ppm)</text>
<text x="12.6" y="236" font-family='"Liberation Serif", serif' font-size="16.5" fill="#111" stroke="#111" stroke-width="0.15">b</text>
<defs><linearGradient id="cb" x1="0" y1="1" x2="0" y2="0"><stop offset="0.00" stop-color="rgb(255, 255, 255)"/><stop offset="0.10" stop-color="rgb(251, 236, 240)"/><stop offset="0.20" stop-color="rgb(246, 216, 224)"/><stop offset="0.40" stop-color="rgb(236, 188, 202)"/><stop offset="0.60" stop-color="rgb(216, 178, 208)"/><stop offset="0.80" stop-color="rgb(192, 170, 216)"/><stop offset="1.00" stop-color="rgb(170, 166, 220)"/></linearGradient></defs>
<rect x="514.1" y="235.6" width="6.399999999999977" height="137.70000000000002" fill="url(#cb)" stroke="#333" stroke-width="0.7"/>
<line x1="520.5" y1="235.20" x2="524.5" y2="235.20" stroke="#333" stroke-width="0.9"/>
<text x="525.8" y="239.20" font-family='"Liberation Serif", serif' font-size="11.5" fill="#111" stroke="#111" stroke-width="0.15">40</text>
<line x1="520.5" y1="262.96" x2="524.5" y2="262.96" stroke="#333" stroke-width="0.9"/>
<text x="525.8" y="266.96" font-family='"Liberation Serif", serif' font-size="11.5" fill="#111" stroke="#111" stroke-width="0.15">32</text>
<line x1="520.5" y1="290.72" x2="524.5" y2="290.72" stroke="#333" stroke-width="0.9"/>
<text x="525.8" y="294.72" font-family='"Liberation Serif", serif' font-size="11.5" fill="#111" stroke="#111" stroke-width="0.15">24</text>
<line x1="520.5" y1="318.48" x2="524.5" y2="318.48" stroke="#333" stroke-width="0.9"/>
<text x="525.8" y="322.48" font-family='"Liberation Serif", serif' font-size="11.5" fill="#111" stroke="#111" stroke-width="0.15">16</text>
<line x1="520.5" y1="345.89" x2="524.5" y2="345.89" stroke="#333" stroke-width="0.9"/>
<text x="525.8" y="349.89" font-family='"Liberation Serif", serif' font-size="11.5" fill="#111" stroke="#111" stroke-width="0.15">8.1</text>
<line x1="520.5" y1="373.30" x2="524.5" y2="373.30" stroke="#333" stroke-width="0.9"/>
<text x="525.8" y="377.30" font-family='"Liberation Serif", serif' font-size="11.5" fill="#111" stroke="#111" stroke-width="0.15">0.20</text>
</svg>
</body></html>
